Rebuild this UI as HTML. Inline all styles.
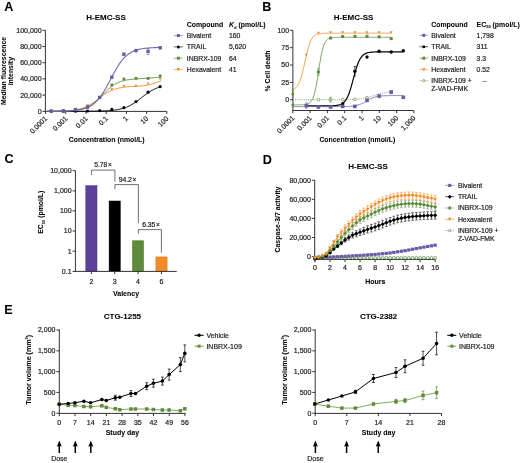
<!DOCTYPE html>
<html><head><meta charset="utf-8"><style>
html,body{margin:0;padding:0;background:#fff;width:520px;height:463px;overflow:hidden}
svg{display:block;filter:blur(0.3px)}
text{font-family:"Liberation Sans", sans-serif}
</style></head><body>
<svg width="520" height="463" viewBox="0 0 520 463">
<rect width="520" height="463" fill="#fff"/>
<text x="4.3" y="11.2" font-size="12.6" text-anchor="start" font-weight="bold" fill="#000" stroke="#000" stroke-width="0.05">A</text>
<text x="262.3" y="11.2" font-size="12.6" text-anchor="start" font-weight="bold" fill="#000" stroke="#000" stroke-width="0.05">B</text>
<text x="4.6" y="163.4" font-size="12.6" text-anchor="start" font-weight="bold" fill="#000" stroke="#000" stroke-width="0.05">C</text>
<text x="262.8" y="163.9" font-size="12.6" text-anchor="start" font-weight="bold" fill="#000" stroke="#000" stroke-width="0.05">D</text>
<text x="4.3" y="313.6" font-size="12.6" text-anchor="start" font-weight="bold" fill="#000" stroke="#000" stroke-width="0.05">E</text>
<text x="106" y="19.6" font-size="8" text-anchor="middle" font-weight="bold" fill="#000" stroke="#000" stroke-width="0.05">H-EMC-SS</text>
<line x1="45.4" y1="30.4" x2="45.4" y2="111.8" stroke="#333" stroke-width="1"/>
<line x1="45.4" y1="111.4" x2="166.8" y2="111.4" stroke="#333" stroke-width="1"/>
<line x1="42.5" y1="111.3" x2="45.4" y2="111.3" stroke="#333" stroke-width="1"/>
<text x="41.6" y="113.75" font-size="7" text-anchor="end" fill="#222" stroke="#222" stroke-width="0.2">0</text>
<line x1="42.5" y1="95.1" x2="45.4" y2="95.1" stroke="#333" stroke-width="1"/>
<text x="41.6" y="97.55" font-size="7" text-anchor="end" fill="#222" stroke="#222" stroke-width="0.2">20,000</text>
<line x1="42.5" y1="78.9" x2="45.4" y2="78.9" stroke="#333" stroke-width="1"/>
<text x="41.6" y="81.35" font-size="7" text-anchor="end" fill="#222" stroke="#222" stroke-width="0.2">40,000</text>
<line x1="42.5" y1="62.7" x2="45.4" y2="62.7" stroke="#333" stroke-width="1"/>
<text x="41.6" y="65.15" font-size="7" text-anchor="end" fill="#222" stroke="#222" stroke-width="0.2">60,000</text>
<line x1="42.5" y1="46.5" x2="45.4" y2="46.5" stroke="#333" stroke-width="1"/>
<text x="41.6" y="48.95" font-size="7" text-anchor="end" fill="#222" stroke="#222" stroke-width="0.2">80,000</text>
<line x1="42.5" y1="30.3" x2="45.4" y2="30.3" stroke="#333" stroke-width="1"/>
<text x="41.6" y="32.75" font-size="7" text-anchor="end" fill="#222" stroke="#222" stroke-width="0.2">100,000</text>
<line x1="45.6" y1="111.4" x2="45.6" y2="114" stroke="#333" stroke-width="1"/>
<text x="0" y="0" font-size="7" text-anchor="end" fill="#222" stroke="#222" stroke-width="0.2" transform="translate(47.8,118.9) rotate(-45)">0.0001</text>
<line x1="65.8" y1="111.4" x2="65.8" y2="114" stroke="#333" stroke-width="1"/>
<text x="0" y="0" font-size="7" text-anchor="end" fill="#222" stroke="#222" stroke-width="0.2" transform="translate(68,118.9) rotate(-45)">0.001</text>
<line x1="86" y1="111.4" x2="86" y2="114" stroke="#333" stroke-width="1"/>
<text x="0" y="0" font-size="7" text-anchor="end" fill="#222" stroke="#222" stroke-width="0.2" transform="translate(88.2,118.9) rotate(-45)">0.01</text>
<line x1="106.2" y1="111.4" x2="106.2" y2="114" stroke="#333" stroke-width="1"/>
<text x="0" y="0" font-size="7" text-anchor="end" fill="#222" stroke="#222" stroke-width="0.2" transform="translate(108.4,118.9) rotate(-45)">0.1</text>
<line x1="126.4" y1="111.4" x2="126.4" y2="114" stroke="#333" stroke-width="1"/>
<text x="0" y="0" font-size="7" text-anchor="end" fill="#222" stroke="#222" stroke-width="0.2" transform="translate(128.6,118.9) rotate(-45)">1</text>
<line x1="146.6" y1="111.4" x2="146.6" y2="114" stroke="#333" stroke-width="1"/>
<text x="0" y="0" font-size="7" text-anchor="end" fill="#222" stroke="#222" stroke-width="0.2" transform="translate(148.8,118.9) rotate(-45)">10</text>
<line x1="166.8" y1="111.4" x2="166.8" y2="114" stroke="#333" stroke-width="1"/>
<text x="0" y="0" font-size="7" text-anchor="end" fill="#222" stroke="#222" stroke-width="0.2" transform="translate(169,118.9) rotate(-45)">100</text>
<text x="106.7" y="142.4" font-size="6.9" text-anchor="middle" font-weight="bold" fill="#000" stroke="#000" stroke-width="0.05">Concentration (nmol/L)</text>
<text x="0" y="0" font-size="6.9" text-anchor="middle" font-weight="bold" fill="#000" stroke="#000" stroke-width="0.05" transform="translate(5.6,70.9) rotate(-90)">Median fluorescence</text>
<text x="0" y="0" font-size="6.9" text-anchor="middle" font-weight="bold" fill="#000" stroke="#000" stroke-width="0.05" transform="translate(12.6,71.2) rotate(-90)">intensity</text>
<path d="M47.2 111.3 L47.92 111.3 L48.63 111.3 L49.35 111.3 L50.06 111.3 L50.78 111.3 L51.5 111.3 L52.21 111.3 L52.93 111.3 L53.64 111.3 L54.36 111.3 L55.08 111.3 L55.79 111.3 L56.51 111.3 L57.23 111.3 L57.94 111.3 L58.66 111.3 L59.37 111.3 L60.09 111.3 L60.81 111.3 L61.52 111.3 L62.24 111.3 L62.95 111.3 L63.67 111.3 L64.39 111.3 L65.1 111.3 L65.82 111.3 L66.53 111.29 L67.25 111.29 L67.97 111.29 L68.68 111.29 L69.4 111.29 L70.12 111.29 L70.83 111.29 L71.55 111.29 L72.26 111.29 L72.98 111.29 L73.7 111.29 L74.41 111.29 L75.13 111.29 L75.84 111.28 L76.56 111.28 L77.28 111.28 L77.99 111.28 L78.71 111.28 L79.43 111.28 L80.14 111.28 L80.86 111.27 L81.57 111.27 L82.29 111.27 L83.01 111.27 L83.72 111.26 L84.44 111.26 L85.15 111.26 L85.87 111.25 L86.59 111.25 L87.3 111.24 L88.02 111.24 L88.73 111.23 L89.45 111.23 L90.17 111.22 L90.88 111.22 L91.6 111.21 L92.32 111.2 L93.03 111.19 L93.75 111.18 L94.46 111.17 L95.18 111.16 L95.9 111.15 L96.61 111.14 L97.33 111.12 L98.04 111.11 L98.76 111.09 L99.48 111.08 L100.19 111.06 L100.91 111.04 L101.62 111.01 L102.34 110.99 L103.06 110.96 L103.77 110.94 L104.49 110.91 L105.21 110.87 L105.92 110.84 L106.64 110.8 L107.35 110.76 L108.07 110.71 L108.79 110.66 L109.5 110.61 L110.22 110.55 L110.93 110.49 L111.65 110.42 L112.37 110.35 L113.08 110.28 L113.8 110.19 L114.52 110.1 L115.23 110 L115.95 109.9 L116.66 109.79 L117.38 109.67 L118.1 109.54 L118.81 109.4 L119.53 109.25 L120.24 109.09 L120.96 108.92 L121.68 108.73 L122.39 108.54 L123.11 108.33 L123.82 108.1 L124.54 107.86 L125.26 107.61 L125.97 107.34 L126.69 107.06 L127.41 106.76 L128.12 106.44 L128.84 106.11 L129.55 105.75 L130.27 105.39 L130.99 105 L131.7 104.59 L132.42 104.17 L133.13 103.73 L133.85 103.28 L134.57 102.81 L135.28 102.32 L136 101.83 L136.72 101.32 L137.43 100.79 L138.15 100.26 L138.86 99.72 L139.58 99.17 L140.3 98.62 L141.01 98.06 L141.73 97.51 L142.44 96.95 L143.16 96.4 L143.88 95.85 L144.59 95.3 L145.31 94.77 L146.02 94.24 L146.74 93.72 L147.46 93.22 L148.17 92.73 L148.89 92.25 L149.61 91.79 L150.32 91.34 L151.04 90.91 L151.75 90.5 L152.47 90.1 L153.19 89.72 L153.9 89.36 L154.62 89.02 L155.33 88.69 L156.05 88.39 L156.77 88.09 L157.48 87.82 L158.2 87.56 L158.91 87.31 L159.63 87.08 L160.35 86.87 L161.06 86.66" fill="none" stroke="#000" stroke-width="1"/>
<path d="M47.2 111.25 L47.92 111.24 L48.63 111.24 L49.35 111.23 L50.06 111.22 L50.78 111.22 L51.5 111.21 L52.21 111.2 L52.93 111.19 L53.64 111.18 L54.36 111.17 L55.08 111.16 L55.79 111.15 L56.51 111.14 L57.23 111.12 L57.94 111.11 L58.66 111.09 L59.37 111.07 L60.09 111.05 L60.81 111.03 L61.52 111.01 L62.24 110.98 L62.95 110.95 L63.67 110.92 L64.39 110.89 L65.1 110.85 L65.82 110.81 L66.53 110.77 L67.25 110.72 L67.97 110.67 L68.68 110.62 L69.4 110.56 L70.12 110.49 L70.83 110.42 L71.55 110.35 L72.26 110.27 L72.98 110.18 L73.7 110.08 L74.41 109.98 L75.13 109.87 L75.84 109.75 L76.56 109.62 L77.28 109.48 L77.99 109.33 L78.71 109.16 L79.43 108.99 L80.14 108.8 L80.86 108.61 L81.57 108.39 L82.29 108.16 L83.01 107.92 L83.72 107.66 L84.44 107.39 L85.15 107.1 L85.87 106.79 L86.59 106.46 L87.3 106.12 L88.02 105.75 L88.73 105.37 L89.45 104.98 L90.17 104.56 L90.88 104.13 L91.6 103.68 L92.32 103.22 L93.03 102.74 L93.75 102.25 L94.46 101.75 L95.18 101.24 L95.9 100.71 L96.61 100.18 L97.33 99.65 L98.04 99.11 L98.76 98.57 L99.48 98.03 L100.19 97.49 L100.91 96.96 L101.62 96.44 L102.34 95.92 L103.06 95.41 L103.77 94.91 L104.49 94.43 L105.21 93.96 L105.92 93.5 L106.64 93.06 L107.35 92.64 L108.07 92.23 L108.79 91.84 L109.5 91.47 L110.22 91.12 L110.93 90.78 L111.65 90.46 L112.37 90.16 L113.08 89.88 L113.8 89.61 L114.52 89.36 L115.23 89.12 L115.95 88.9 L116.66 88.69 L117.38 88.5 L118.1 88.32 L118.81 88.15 L119.53 87.99 L120.24 87.85 L120.96 87.71 L121.68 87.58 L122.39 87.47 L123.11 87.36 L123.82 87.26 L124.54 87.16 L125.26 87.07 L125.97 86.99 L126.69 86.91 L127.41 86.84 L128.12 86.78 L128.84 86.72 L129.55 86.66 L130.27 86.6 L130.99 86.55 L131.7 86.5 L132.42 86.45 L133.13 86.41 L133.85 86.36 L134.57 86.32 L135.28 86.27 L136 86.23 L136.72 86.19 L137.43 86.14 L138.15 86.1 L138.86 86.05 L139.58 86 L140.3 85.94 L141.01 85.89 L141.73 85.82 L142.44 85.76 L143.16 85.68 L143.88 85.6 L144.59 85.52 L145.31 85.42 L146.02 85.32 L146.74 85.21 L147.46 85.08 L148.17 84.95 L148.89 84.8 L149.61 84.64 L150.32 84.47 L151.04 84.29 L151.75 84.09 L152.47 83.88 L153.19 83.66 L153.9 83.43 L154.62 83.19 L155.33 82.94 L156.05 82.68 L156.77 82.42 L157.48 82.16 L158.2 81.9 L158.91 81.64 L159.63 81.38 L160.35 81.13 L161.06 80.89" fill="none" stroke="#f38a25" stroke-width="1"/>
<path d="M47.2 111.27 L47.92 111.27 L48.63 111.26 L49.35 111.26 L50.06 111.25 L50.78 111.25 L51.5 111.25 L52.21 111.24 L52.93 111.24 L53.64 111.23 L54.36 111.22 L55.08 111.22 L55.79 111.21 L56.51 111.2 L57.23 111.19 L57.94 111.18 L58.66 111.17 L59.37 111.15 L60.09 111.14 L60.81 111.13 L61.52 111.11 L62.24 111.09 L62.95 111.07 L63.67 111.05 L64.39 111.03 L65.1 111 L65.82 110.98 L66.53 110.95 L67.25 110.91 L67.97 110.88 L68.68 110.84 L69.4 110.79 L70.12 110.75 L70.83 110.7 L71.55 110.64 L72.26 110.58 L72.98 110.52 L73.7 110.44 L74.41 110.37 L75.13 110.28 L75.84 110.19 L76.56 110.09 L77.28 109.98 L77.99 109.86 L78.71 109.73 L79.43 109.59 L80.14 109.44 L80.86 109.27 L81.57 109.1 L82.29 108.9 L83.01 108.7 L83.72 108.47 L84.44 108.23 L85.15 107.97 L85.87 107.7 L86.59 107.4 L87.3 107.08 L88.02 106.74 L88.73 106.37 L89.45 105.98 L90.17 105.57 L90.88 105.14 L91.6 104.67 L92.32 104.19 L93.03 103.67 L93.75 103.13 L94.46 102.57 L95.18 101.98 L95.9 101.37 L96.61 100.74 L97.33 100.09 L98.04 99.42 L98.76 98.73 L99.48 98.03 L100.19 97.31 L100.91 96.59 L101.62 95.85 L102.34 95.12 L103.06 94.38 L103.77 93.65 L104.49 92.92 L105.21 92.2 L105.92 91.49 L106.64 90.79 L107.35 90.11 L108.07 89.44 L108.79 88.8 L109.5 88.17 L110.22 87.57 L110.93 86.99 L111.65 86.44 L112.37 85.91 L113.08 85.41 L113.8 84.93 L114.52 84.48 L115.23 84.05 L115.95 83.65 L116.66 83.27 L117.38 82.91 L118.1 82.58 L118.81 82.27 L119.53 81.98 L120.24 81.71 L120.96 81.45 L121.68 81.22 L122.39 81 L123.11 80.8 L123.82 80.61 L124.54 80.44 L125.26 80.27 L125.97 80.12 L126.69 79.99 L127.41 79.86 L128.12 79.74 L128.84 79.63 L129.55 79.53 L130.27 79.44 L130.99 79.35 L131.7 79.27 L132.42 79.19 L133.13 79.12 L133.85 79.06 L134.57 78.99 L135.28 78.94 L136 78.88 L136.72 78.83 L137.43 78.78 L138.15 78.73 L138.86 78.69 L139.58 78.64 L140.3 78.6 L141.01 78.56 L141.73 78.52 L142.44 78.48 L143.16 78.44 L143.88 78.39 L144.59 78.35 L145.31 78.31 L146.02 78.27 L146.74 78.22 L147.46 78.18 L148.17 78.13 L148.89 78.08 L149.61 78.03 L150.32 77.98 L151.04 77.93 L151.75 77.88 L152.47 77.82 L153.19 77.76 L153.9 77.7 L154.62 77.64 L155.33 77.58 L156.05 77.52 L156.77 77.46 L157.48 77.39 L158.2 77.33 L158.91 77.26 L159.63 77.2 L160.35 77.14 L161.06 77.08" fill="none" stroke="#5e8c3c" stroke-width="1"/>
<path d="M47.2 111.27 L47.92 111.26 L48.63 111.26 L49.35 111.26 L50.06 111.25 L50.78 111.25 L51.5 111.25 L52.21 111.24 L52.93 111.24 L53.64 111.23 L54.36 111.22 L55.08 111.22 L55.79 111.21 L56.51 111.2 L57.23 111.19 L57.94 111.18 L58.66 111.17 L59.37 111.16 L60.09 111.15 L60.81 111.14 L61.52 111.12 L62.24 111.1 L62.95 111.09 L63.67 111.07 L64.39 111.05 L65.1 111.02 L65.82 111 L66.53 110.97 L67.25 110.94 L67.97 110.91 L68.68 110.88 L69.4 110.84 L70.12 110.8 L70.83 110.76 L71.55 110.71 L72.26 110.66 L72.98 110.6 L73.7 110.54 L74.41 110.47 L75.13 110.4 L75.84 110.32 L76.56 110.23 L77.28 110.13 L77.99 110.03 L78.71 109.92 L79.43 109.8 L80.14 109.67 L80.86 109.53 L81.57 109.37 L82.29 109.21 L83.01 109.03 L83.72 108.83 L84.44 108.62 L85.15 108.39 L85.87 108.14 L86.59 107.88 L87.3 107.59 L88.02 107.28 L88.73 106.94 L89.45 106.58 L90.17 106.19 L90.88 105.77 L91.6 105.33 L92.32 104.84 L93.03 104.33 L93.75 103.78 L94.46 103.19 L95.18 102.57 L95.9 101.9 L96.61 101.19 L97.33 100.44 L98.04 99.64 L98.76 98.8 L99.48 97.92 L100.19 96.99 L100.91 96.01 L101.62 95 L102.34 93.93 L103.06 92.83 L103.77 91.68 L104.49 90.5 L105.21 89.27 L105.92 88.02 L106.64 86.74 L107.35 85.43 L108.07 84.1 L108.79 82.75 L109.5 81.39 L110.22 80.02 L110.93 78.65 L111.65 77.28 L112.37 75.92 L113.08 74.57 L113.8 73.23 L114.52 71.92 L115.23 70.64 L115.95 69.38 L116.66 68.16 L117.38 66.97 L118.1 65.83 L118.81 64.72 L119.53 63.65 L120.24 62.63 L120.96 61.65 L121.68 60.72 L122.39 59.84 L123.11 58.99 L123.82 58.2 L124.54 57.44 L125.26 56.73 L125.97 56.07 L126.69 55.44 L127.41 54.85 L128.12 54.29 L128.84 53.78 L129.55 53.3 L130.27 52.85 L130.99 52.43 L131.7 52.04 L132.42 51.67 L133.13 51.34 L133.85 51.03 L134.57 50.74 L135.28 50.47 L136 50.22 L136.72 49.99 L137.43 49.78 L138.15 49.58 L138.86 49.4 L139.58 49.23 L140.3 49.08 L141.01 48.94 L141.73 48.8 L142.44 48.68 L143.16 48.57 L143.88 48.47 L144.59 48.38 L145.31 48.29 L146.02 48.21 L146.74 48.13 L147.46 48.07 L148.17 48 L148.89 47.95 L149.61 47.89 L150.32 47.85 L151.04 47.8 L151.75 47.76 L152.47 47.72 L153.19 47.69 L153.9 47.66 L154.62 47.63 L155.33 47.6 L156.05 47.58 L156.77 47.55 L157.48 47.53 L158.2 47.51 L158.91 47.5 L159.63 47.48 L160.35 47.47 L161.06 47.45" fill="none" stroke="#7466b4" stroke-width="1.1"/>
<circle cx="51.3" cy="111.2" r="1.6" fill="#000"/>
<circle cx="63.4" cy="111.2" r="1.6" fill="#000"/>
<circle cx="75.5" cy="111.2" r="1.6" fill="#000"/>
<circle cx="87.6" cy="111" r="1.6" fill="#000"/>
<circle cx="99.7" cy="110.6" r="1.6" fill="#000"/>
<circle cx="111.8" cy="109.4" r="1.6" fill="#000"/>
<circle cx="123.9" cy="107.7" r="1.6" fill="#000"/>
<circle cx="136" cy="101.6" r="1.6" fill="#000"/>
<circle cx="148.1" cy="92.2" r="1.6" fill="#000"/>
<circle cx="160.2" cy="86.6" r="1.6" fill="#000"/>
<path d="M49.87 109.9 L52.73 109.9 L51.3 112.63 Z" fill="#f38a25"/>
<path d="M61.97 109.5 L64.83 109.5 L63.4 112.23 Z" fill="#f38a25"/>
<path d="M74.07 108.2 L76.93 108.2 L75.5 110.93 Z" fill="#f38a25"/>
<path d="M86.17 104.2 L89.03 104.2 L87.6 106.93 Z" fill="#f38a25"/>
<path d="M98.27 96.3 L101.13 96.3 L99.7 99.03 Z" fill="#f38a25"/>
<path d="M110.37 87.9 L113.23 87.9 L111.8 90.63 Z" fill="#f38a25"/>
<path d="M122.47 84.9 L125.33 84.9 L123.9 87.63 Z" fill="#f38a25"/>
<path d="M134.57 84.7 L137.43 84.7 L136 87.43 Z" fill="#f38a25"/>
<path d="M146.67 82.5 L149.53 82.5 L148.1 85.23 Z" fill="#f38a25"/>
<path d="M158.77 77.9 L161.63 77.9 L160.2 80.63 Z" fill="#f38a25"/>
<rect x="49.9" y="109.8" width="2.8" height="2.8" fill="#5e8c3c"/>
<rect x="62" y="109.4" width="2.8" height="2.8" fill="#5e8c3c"/>
<rect x="74.1" y="108.1" width="2.8" height="2.8" fill="#5e8c3c"/>
<rect x="86.2" y="105.1" width="2.8" height="2.8" fill="#5e8c3c"/>
<rect x="98.3" y="96.2" width="2.8" height="2.8" fill="#5e8c3c"/>
<rect x="110.4" y="83.6" width="2.8" height="2.8" fill="#5e8c3c"/>
<rect x="122.5" y="77.6" width="2.8" height="2.8" fill="#5e8c3c"/>
<rect x="134.6" y="77" width="2.8" height="2.8" fill="#5e8c3c"/>
<rect x="146.7" y="77" width="2.8" height="2.8" fill="#5e8c3c"/>
<rect x="158.8" y="74.5" width="2.8" height="2.8" fill="#5e8c3c"/>
<line x1="148.1" y1="48.5" x2="148.1" y2="54.5" stroke="#6a5aa8" stroke-width="0.6"/>
<line x1="146.9" y1="48.5" x2="149.3" y2="48.5" stroke="#6a5aa8" stroke-width="0.6"/>
<line x1="146.9" y1="54.5" x2="149.3" y2="54.5" stroke="#6a5aa8" stroke-width="0.6"/>
<rect x="49.6" y="109.5" width="3.4" height="3.4" fill="#6a5aa8"/>
<rect x="61.7" y="109.3" width="3.4" height="3.4" fill="#6a5aa8"/>
<rect x="73.8" y="107.9" width="3.4" height="3.4" fill="#6a5aa8"/>
<rect x="85.9" y="105.5" width="3.4" height="3.4" fill="#6a5aa8"/>
<rect x="98" y="95.7" width="3.4" height="3.4" fill="#6a5aa8"/>
<rect x="110.1" y="75.5" width="3.4" height="3.4" fill="#6a5aa8"/>
<rect x="122.2" y="52.5" width="3.4" height="3.4" fill="#6a5aa8"/>
<rect x="134.3" y="48.9" width="3.4" height="3.4" fill="#6a5aa8"/>
<rect x="146.4" y="49.7" width="3.4" height="3.4" fill="#6a5aa8"/>
<rect x="158.5" y="46.1" width="3.4" height="3.4" fill="#6a5aa8"/>
<text x="186.8" y="27" font-size="6.9" text-anchor="start" font-weight="bold" fill="#000" stroke="#000" stroke-width="0.05">Compound</text>
<text x="229" y="27" font-size="6.9" text-anchor="start" font-weight="bold" fill="#000" stroke="#000" stroke-width="0.05"><tspan font-style="italic">K</tspan><tspan font-size="4.2" dy="1.8">d</tspan><tspan dy="-1.8"> (pmol/L)</tspan></text>
<line x1="173.8" y1="35.6" x2="183" y2="35.6" stroke="#6a5aa8" stroke-width="1" stroke-opacity="0.6"/>
<rect x="176.9" y="34.1" width="3" height="3" fill="#6a5aa8"/>
<text x="186.8" y="38.05" font-size="6.85" text-anchor="start" fill="#222" stroke="#222" stroke-width="0.2">Bivalent</text>
<text x="229" y="38.05" font-size="6.85" text-anchor="start" fill="#222" stroke="#222" stroke-width="0.2">160</text>
<line x1="173.8" y1="46.9" x2="183" y2="46.9" stroke="#000" stroke-width="1" stroke-opacity="0.6"/>
<circle cx="178.4" cy="46.9" r="1.5" fill="#000"/>
<text x="186.8" y="49.35" font-size="6.85" text-anchor="start" fill="#222" stroke="#222" stroke-width="0.2">TRAIL</text>
<text x="229" y="49.35" font-size="6.85" text-anchor="start" fill="#222" stroke="#222" stroke-width="0.2">5,620</text>
<line x1="173.8" y1="58.2" x2="183" y2="58.2" stroke="#5e8c3c" stroke-width="1" stroke-opacity="0.6"/>
<rect x="176.9" y="56.7" width="3" height="3" fill="#5e8c3c"/>
<text x="186.8" y="60.65" font-size="6.85" text-anchor="start" fill="#222" stroke="#222" stroke-width="0.2">INBRX-109</text>
<text x="229" y="60.65" font-size="6.85" text-anchor="start" fill="#222" stroke="#222" stroke-width="0.2">64</text>
<line x1="173.8" y1="69.5" x2="183" y2="69.5" stroke="#f38a25" stroke-width="1" stroke-opacity="0.6"/>
<path d="M176.75 68 L180.05 68 L178.4 71.15 Z" fill="#f38a25"/>
<text x="186.8" y="71.95" font-size="6.85" text-anchor="start" fill="#222" stroke="#222" stroke-width="0.2">Hexavalent</text>
<text x="229" y="71.95" font-size="6.85" text-anchor="start" fill="#222" stroke="#222" stroke-width="0.2">41</text>
<text x="353.6" y="19.6" font-size="8" text-anchor="middle" font-weight="bold" fill="#000" stroke="#000" stroke-width="0.05">H-EMC-SS</text>
<line x1="292.9" y1="30.2" x2="292.9" y2="110.9" stroke="#333" stroke-width="1"/>
<line x1="292.9" y1="110.5" x2="413.8" y2="110.5" stroke="#333" stroke-width="1"/>
<line x1="290" y1="99.7" x2="292.9" y2="99.7" stroke="#333" stroke-width="1"/>
<text x="289.1" y="102.15" font-size="7" text-anchor="end" fill="#222" stroke="#222" stroke-width="0.2">0</text>
<line x1="290" y1="82.36" x2="292.9" y2="82.36" stroke="#333" stroke-width="1"/>
<text x="289.1" y="84.81" font-size="7" text-anchor="end" fill="#222" stroke="#222" stroke-width="0.2">25</text>
<line x1="290" y1="65.03" x2="292.9" y2="65.03" stroke="#333" stroke-width="1"/>
<text x="289.1" y="67.48" font-size="7" text-anchor="end" fill="#222" stroke="#222" stroke-width="0.2">50</text>
<line x1="290" y1="47.69" x2="292.9" y2="47.69" stroke="#333" stroke-width="1"/>
<text x="289.1" y="50.14" font-size="7" text-anchor="end" fill="#222" stroke="#222" stroke-width="0.2">75</text>
<line x1="290" y1="30.35" x2="292.9" y2="30.35" stroke="#333" stroke-width="1"/>
<text x="289.1" y="32.8" font-size="7" text-anchor="end" fill="#222" stroke="#222" stroke-width="0.2">100</text>
<line x1="292.8" y1="110.5" x2="292.8" y2="113.1" stroke="#333" stroke-width="1"/>
<text x="0" y="0" font-size="7" text-anchor="end" fill="#222" stroke="#222" stroke-width="0.2" transform="translate(295,118.6) rotate(-45)">0.0001</text>
<line x1="310.1" y1="110.5" x2="310.1" y2="113.1" stroke="#333" stroke-width="1"/>
<text x="0" y="0" font-size="7" text-anchor="end" fill="#222" stroke="#222" stroke-width="0.2" transform="translate(312.3,118.6) rotate(-45)">0.001</text>
<line x1="327.4" y1="110.5" x2="327.4" y2="113.1" stroke="#333" stroke-width="1"/>
<text x="0" y="0" font-size="7" text-anchor="end" fill="#222" stroke="#222" stroke-width="0.2" transform="translate(329.6,118.6) rotate(-45)">0.01</text>
<line x1="344.7" y1="110.5" x2="344.7" y2="113.1" stroke="#333" stroke-width="1"/>
<text x="0" y="0" font-size="7" text-anchor="end" fill="#222" stroke="#222" stroke-width="0.2" transform="translate(346.9,118.6) rotate(-45)">0.1</text>
<line x1="362" y1="110.5" x2="362" y2="113.1" stroke="#333" stroke-width="1"/>
<text x="0" y="0" font-size="7" text-anchor="end" fill="#222" stroke="#222" stroke-width="0.2" transform="translate(364.2,118.6) rotate(-45)">1</text>
<line x1="379.3" y1="110.5" x2="379.3" y2="113.1" stroke="#333" stroke-width="1"/>
<text x="0" y="0" font-size="7" text-anchor="end" fill="#222" stroke="#222" stroke-width="0.2" transform="translate(381.5,118.6) rotate(-45)">10</text>
<line x1="396.6" y1="110.5" x2="396.6" y2="113.1" stroke="#333" stroke-width="1"/>
<text x="0" y="0" font-size="7" text-anchor="end" fill="#222" stroke="#222" stroke-width="0.2" transform="translate(398.8,118.6) rotate(-45)">100</text>
<line x1="413.9" y1="110.5" x2="413.9" y2="113.1" stroke="#333" stroke-width="1"/>
<text x="0" y="0" font-size="7" text-anchor="end" fill="#222" stroke="#222" stroke-width="0.2" transform="translate(416.1,118.6) rotate(-45)">1,000</text>
<text x="357.3" y="142.4" font-size="6.9" text-anchor="middle" font-weight="bold" fill="#000" stroke="#000" stroke-width="0.05">Concentration (nmol/L)</text>
<text x="0" y="0" font-size="6.9" text-anchor="middle" font-weight="bold" fill="#000" stroke="#000" stroke-width="0.05" transform="translate(270.3,71) rotate(-90)">% Cell death</text>
<path d="M292.8 99.7 L293.79 99.7 L294.79 99.7 L295.78 99.7 L296.77 99.7 L297.76 99.7 L298.76 99.7 L299.75 99.7 L300.74 99.7 L301.74 99.7 L302.73 99.7 L303.72 99.7 L304.71 99.7 L305.71 99.7 L306.7 99.7 L307.69 99.7 L308.68 99.7 L309.68 99.7 L310.67 99.7 L311.66 99.7 L312.66 99.7 L313.65 99.7 L314.64 99.7 L315.63 99.7 L316.63 99.7 L317.62 99.7 L318.61 99.7 L319.61 99.7 L320.6 99.7 L321.59 99.7 L322.58 99.7 L323.58 99.7 L324.57 99.7 L325.56 99.7 L326.55 99.7 L327.55 99.7 L328.54 99.69 L329.53 99.69 L330.53 99.69 L331.52 99.69 L332.51 99.69 L333.5 99.69 L334.5 99.69 L335.49 99.68 L336.48 99.68 L337.48 99.68 L338.47 99.67 L339.46 99.67 L340.45 99.66 L341.45 99.65 L342.44 99.65 L343.43 99.64 L344.42 99.63 L345.42 99.62 L346.41 99.6 L347.4 99.58 L348.4 99.56 L349.39 99.54 L350.38 99.52 L351.37 99.48 L352.37 99.45 L353.36 99.41 L354.35 99.36 L355.35 99.3 L356.34 99.24 L357.33 99.16 L358.32 99.08 L359.32 98.98 L360.31 98.87 L361.3 98.74 L362.29 98.6 L363.29 98.44 L364.28 98.26 L365.27 98.07 L366.27 97.85 L367.26 97.61 L368.25 97.35 L369.24 97.07 L370.24 96.78 L371.23 96.47 L372.22 96.16 L373.22 95.83 L374.21 95.5 L375.2 95.17 L376.19 94.85 L377.19 94.53 L378.18 94.23 L379.17 93.94 L380.16 93.67 L381.16 93.41 L382.15 93.18 L383.14 92.96 L384.14 92.77 L385.13 92.6 L386.12 92.44 L387.11 92.3 L388.11 92.18 L389.1 92.07 L390.09 91.98 L391.09 91.9" fill="none" stroke="#5e8c3c" stroke-width="0.8" stroke-dasharray="1 1.2"/>
<path d="M292.8 89.5 L293.42 89.25 L294.04 88.94 L294.66 88.57 L295.28 88.13 L295.9 87.6 L296.52 86.97 L297.14 86.22 L297.76 85.33 L298.38 84.29 L299 83.08 L299.62 81.67 L300.24 80.06 L300.86 78.24 L301.48 76.2 L302.1 73.95 L302.72 71.5 L303.34 68.89 L303.96 66.15 L304.58 63.33 L305.2 60.48 L305.82 57.66 L306.44 54.92 L307.06 52.31 L307.68 49.87 L308.3 47.62 L308.92 45.58 L309.54 43.75 L310.16 42.14 L310.78 40.73 L311.4 39.52 L312.02 38.48 L312.64 37.59 L313.26 36.84 L313.88 36.21 L314.5 35.68 L315.12 35.24 L315.74 34.87 L316.36 34.56 L316.98 34.31 L317.6 34.1 L318.22 33.93 L318.84 33.78 L319.46 33.67 L320.08 33.57 L320.7 33.49 L321.32 33.42 L321.94 33.37 L322.56 33.33 L323.18 33.29 L323.8 33.26 L324.42 33.24 L325.04 33.22 L325.66 33.2 L326.28 33.19 L326.9 33.17 L327.52 33.17 L328.14 33.16 L328.76 33.15 L329.38 33.15 L330 33.14 L330.62 33.14 L331.24 33.14 L331.86 33.13 L332.48 33.13 L333.1 33.13 L333.73 33.13 L334.35 33.13 L334.97 33.13 L335.59 33.13 L336.21 33.13 L336.83 33.13 L337.45 33.13 L338.07 33.13 L338.69 33.13 L339.31 33.12 L339.93 33.12 L340.55 33.12 L341.17 33.12 L341.79 33.12 L342.41 33.12 L343.03 33.12 L343.65 33.12 L344.27 33.12 L344.89 33.12 L345.51 33.12 L346.13 33.12 L346.75 33.12 L347.37 33.12 L347.99 33.12 L348.61 33.12 L349.23 33.12 L349.85 33.12 L350.47 33.12 L351.09 33.12 L351.71 33.12 L352.33 33.12 L352.95 33.12 L353.57 33.12 L354.19 33.12 L354.81 33.12 L355.43 33.12 L356.05 33.12 L356.67 33.12 L357.29 33.12 L357.91 33.12 L358.53 33.12 L359.15 33.12 L359.77 33.12 L360.39 33.12 L361.01 33.12 L361.63 33.12 L362.25 33.12 L362.87 33.12 L363.49 33.12 L364.11 33.12 L364.73 33.12 L365.35 33.12 L365.97 33.12 L366.59 33.12 L367.21 33.12 L367.83 33.12 L368.45 33.12 L369.07 33.12 L369.69 33.12 L370.31 33.12 L370.93 33.12 L371.55 33.12 L372.17 33.12 L372.79 33.12 L373.41 33.12 L374.03 33.12 L374.65 33.12 L375.27 33.12 L375.89 33.12 L376.51 33.12 L377.13 33.12 L377.75 33.12 L378.37 33.12 L378.99 33.12 L379.61 33.12 L380.23 33.12 L380.85 33.12 L381.47 33.12 L382.09 33.12 L382.71 33.12 L383.33 33.12 L383.95 33.12 L384.57 33.12 L385.19 33.12 L385.81 33.12 L386.43 33.12 L387.05 33.12 L387.67 33.12 L388.29 33.12 L388.91 33.12 L389.53 33.12 L390.15 33.12 L390.77 33.12 L391.39 33.12" fill="none" stroke="#f38a25" stroke-width="0.8"/>
<path d="M292.8 104.9 L293.42 104.9 L294.04 104.9 L294.66 104.89 L295.28 104.89 L295.9 104.89 L296.52 104.89 L297.14 104.88 L297.76 104.88 L298.38 104.87 L299 104.87 L299.62 104.86 L300.24 104.84 L300.86 104.83 L301.48 104.81 L302.1 104.79 L302.72 104.75 L303.34 104.71 L303.96 104.66 L304.58 104.6 L305.2 104.52 L305.82 104.42 L306.44 104.29 L307.06 104.12 L307.68 103.92 L308.3 103.65 L308.92 103.33 L309.54 102.91 L310.16 102.39 L310.78 101.75 L311.4 100.95 L312.02 99.95 L312.64 98.74 L313.26 97.26 L313.88 95.48 L314.5 93.37 L315.12 90.9 L315.74 88.05 L316.36 84.85 L316.98 81.32 L317.6 77.52 L318.22 73.55 L318.84 69.51 L319.46 65.52 L320.08 61.67 L320.7 58.08 L321.32 54.8 L321.94 51.88 L322.56 49.32 L323.18 47.13 L323.8 45.29 L324.42 43.75 L325.04 42.48 L325.66 41.44 L326.28 40.6 L326.9 39.92 L327.52 39.38 L328.14 38.94 L328.76 38.6 L329.38 38.32 L330 38.1 L330.62 37.93 L331.24 37.79 L331.86 37.69 L332.48 37.6 L333.1 37.53 L333.73 37.48 L334.35 37.44 L334.97 37.41 L335.59 37.38 L336.21 37.36 L336.83 37.34 L337.45 37.33 L338.07 37.32 L338.69 37.31 L339.31 37.31 L339.93 37.3 L340.55 37.3 L341.17 37.3 L341.79 37.29 L342.41 37.29 L343.03 37.29 L343.65 37.29 L344.27 37.29 L344.89 37.29 L345.51 37.29 L346.13 37.29 L346.75 37.29 L347.37 37.29 L347.99 37.29 L348.61 37.29 L349.23 37.29 L349.85 37.29 L350.47 37.29 L351.09 37.29 L351.71 37.29 L352.33 37.29 L352.95 37.29 L353.57 37.29 L354.19 37.29 L354.81 37.29 L355.43 37.29 L356.05 37.29 L356.67 37.29 L357.29 37.29 L357.91 37.29 L358.53 37.29 L359.15 37.29 L359.77 37.29 L360.39 37.29 L361.01 37.29 L361.63 37.29 L362.25 37.29 L362.87 37.29 L363.49 37.29 L364.11 37.29 L364.73 37.29 L365.35 37.29 L365.97 37.29 L366.59 37.29 L367.21 37.29 L367.83 37.29 L368.45 37.29 L369.07 37.29 L369.69 37.29 L370.31 37.29 L370.93 37.29 L371.55 37.29 L372.17 37.29 L372.79 37.29 L373.41 37.29 L374.03 37.29 L374.65 37.29 L375.27 37.29 L375.89 37.29 L376.51 37.29 L377.13 37.29 L377.75 37.29 L378.37 37.29 L378.99 37.29 L379.61 37.29 L380.23 37.29 L380.85 37.29 L381.47 37.29 L382.09 37.29 L382.71 37.29 L383.33 37.29 L383.95 37.29 L384.57 37.29 L385.19 37.29 L385.81 37.29 L386.43 37.29 L387.05 37.29 L387.67 37.29 L388.29 37.29 L388.91 37.29 L389.53 37.29 L390.15 37.29 L390.77 37.29 L391.39 37.29" fill="none" stroke="#5e8c3c" stroke-width="0.8"/>
<path d="M306.26 105.94 L306.87 105.94 L307.48 105.94 L308.09 105.94 L308.7 105.94 L309.31 105.94 L309.92 105.94 L310.53 105.94 L311.14 105.94 L311.75 105.94 L312.36 105.94 L312.97 105.94 L313.58 105.94 L314.19 105.94 L314.8 105.94 L315.41 105.94 L316.01 105.94 L316.62 105.94 L317.23 105.94 L317.84 105.94 L318.45 105.94 L319.06 105.94 L319.67 105.94 L320.28 105.94 L320.89 105.94 L321.5 105.93 L322.11 105.93 L322.72 105.93 L323.33 105.93 L323.94 105.93 L324.55 105.92 L325.16 105.92 L325.77 105.92 L326.38 105.91 L326.99 105.91 L327.6 105.9 L328.21 105.89 L328.81 105.88 L329.42 105.87 L330.03 105.86 L330.64 105.85 L331.25 105.83 L331.86 105.81 L332.47 105.78 L333.08 105.75 L333.69 105.72 L334.3 105.68 L334.91 105.63 L335.52 105.57 L336.13 105.5 L336.74 105.42 L337.35 105.33 L337.96 105.21 L338.57 105.08 L339.18 104.92 L339.79 104.74 L340.4 104.52 L341.01 104.26 L341.61 103.96 L342.22 103.61 L342.83 103.2 L343.44 102.72 L344.05 102.17 L344.66 101.52 L345.27 100.78 L345.88 99.93 L346.49 98.96 L347.1 97.85 L347.71 96.61 L348.32 95.22 L348.93 93.68 L349.54 91.99 L350.15 90.16 L350.76 88.19 L351.37 86.1 L351.98 83.92 L352.59 81.66 L353.2 79.37 L353.81 77.07 L354.42 74.79 L355.02 72.57 L355.63 70.44 L356.24 68.42 L356.85 66.53 L357.46 64.78 L358.07 63.18 L358.68 61.73 L359.29 60.43 L359.9 59.27 L360.51 58.24 L361.12 57.34 L361.73 56.56 L362.34 55.87 L362.95 55.28 L363.56 54.77 L364.17 54.34 L364.78 53.96 L365.39 53.64 L366 53.37 L366.61 53.14 L367.22 52.94 L367.82 52.77 L368.43 52.63 L369.04 52.51 L369.65 52.41 L370.26 52.32 L370.87 52.25 L371.48 52.18 L372.09 52.13 L372.7 52.09 L373.31 52.05 L373.92 52.02 L374.53 51.99 L375.14 51.97 L375.75 51.95 L376.36 51.93 L376.97 51.92 L377.58 51.91 L378.19 51.9 L378.8 51.89 L379.41 51.89 L380.02 51.88 L380.62 51.87 L381.23 51.87 L381.84 51.87 L382.45 51.86 L383.06 51.86 L383.67 51.86 L384.28 51.86 L384.89 51.86 L385.5 51.86 L386.11 51.85 L386.72 51.85 L387.33 51.85 L387.94 51.85 L388.55 51.85 L389.16 51.85 L389.77 51.85 L390.38 51.85 L390.99 51.85 L391.6 51.85 L392.21 51.85 L392.82 51.85 L393.43 51.85 L394.03 51.85 L394.64 51.85 L395.25 51.85 L395.86 51.85 L396.47 51.85 L397.08 51.85 L397.69 51.85 L398.3 51.85 L398.91 51.85 L399.52 51.85 L400.13 51.85 L400.74 51.85 L401.35 51.85 L401.96 51.85 L402.57 51.85 L403.18 51.85" fill="none" stroke="#000" stroke-width="1.2"/>
<path d="M292.8 106.63 L293.49 106.63 L294.19 106.63 L294.88 106.63 L295.58 106.63 L296.27 106.63 L296.97 106.63 L297.66 106.63 L298.35 106.63 L299.05 106.63 L299.74 106.63 L300.44 106.63 L301.13 106.63 L301.82 106.63 L302.52 106.63 L303.21 106.63 L303.91 106.63 L304.6 106.63 L305.3 106.63 L305.99 106.63 L306.68 106.63 L307.38 106.63 L308.07 106.63 L308.77 106.63 L309.46 106.63 L310.15 106.63 L310.85 106.63 L311.54 106.63 L312.24 106.63 L312.93 106.63 L313.63 106.63 L314.32 106.63 L315.01 106.63 L315.71 106.63 L316.4 106.63 L317.1 106.63 L317.79 106.63 L318.49 106.63 L319.18 106.63 L319.87 106.63 L320.57 106.63 L321.26 106.63 L321.96 106.63 L322.65 106.63 L323.34 106.63 L324.04 106.63 L324.73 106.63 L325.43 106.63 L326.12 106.63 L326.82 106.63 L327.51 106.63 L328.2 106.63 L328.9 106.63 L329.59 106.63 L330.29 106.63 L330.98 106.63 L331.68 106.63 L332.37 106.63 L333.06 106.63 L333.76 106.62 L334.45 106.62 L335.15 106.62 L335.84 106.62 L336.53 106.62 L337.23 106.61 L337.92 106.61 L338.62 106.61 L339.31 106.6 L340.01 106.6 L340.7 106.59 L341.39 106.58 L342.09 106.57 L342.78 106.56 L343.48 106.55 L344.17 106.54 L344.86 106.52 L345.56 106.51 L346.25 106.49 L346.95 106.46 L347.64 106.44 L348.34 106.4 L349.03 106.37 L349.72 106.33 L350.42 106.28 L351.11 106.22 L351.81 106.16 L352.5 106.09 L353.2 106.01 L353.89 105.91 L354.58 105.81 L355.28 105.69 L355.97 105.55 L356.67 105.4 L357.36 105.23 L358.05 105.03 L358.75 104.82 L359.44 104.59 L360.14 104.33 L360.83 104.05 L361.53 103.74 L362.22 103.41 L362.91 103.06 L363.61 102.7 L364.3 102.31 L365 101.92 L365.69 101.51 L366.39 101.11 L367.08 100.7 L367.77 100.29 L368.47 99.89 L369.16 99.51 L369.86 99.14 L370.55 98.79 L371.24 98.46 L371.94 98.16 L372.63 97.87 L373.33 97.61 L374.02 97.37 L374.72 97.16 L375.41 96.96 L376.1 96.79 L376.8 96.64 L377.49 96.5 L378.19 96.38 L378.88 96.27 L379.57 96.17 L380.27 96.09 L380.96 96.02 L381.66 95.95 L382.35 95.9 L383.05 95.85 L383.74 95.81 L384.43 95.77 L385.13 95.74 L385.82 95.71 L386.52 95.69 L387.21 95.67 L387.91 95.65 L388.6 95.64 L389.29 95.62 L389.99 95.61 L390.68 95.6 L391.38 95.59 L392.07 95.59 L392.76 95.58 L393.46 95.57 L394.15 95.57 L394.85 95.56 L395.54 95.56 L396.24 95.56 L396.93 95.56 L397.62 95.55 L398.32 95.55 L399.01 95.55 L399.71 95.55 L400.4 95.55 L401.1 95.55 L401.79 95.54 L402.48 95.54 L403.18 95.54" fill="none" stroke="#6a5aa8" stroke-width="0.8"/>
<path d="M304.81 53.65 L307.79 53.65 L306.3 56.48 Z" fill="#f38a25"/>
<path d="M316.91 31.65 L319.88 31.65 L318.4 34.48 Z" fill="#f38a25"/>
<path d="M329.12 31.25 L332.09 31.25 L330.6 34.09 Z" fill="#f38a25"/>
<path d="M341.21 31.25 L344.19 31.25 L342.7 34.09 Z" fill="#f38a25"/>
<path d="M353.41 31.25 L356.38 31.25 L354.9 34.09 Z" fill="#f38a25"/>
<path d="M365.51 31.25 L368.49 31.25 L367 34.09 Z" fill="#f38a25"/>
<path d="M377.62 31.25 L380.59 31.25 L379.1 34.09 Z" fill="#f38a25"/>
<path d="M389.71 31.25 L392.69 31.25 L391.2 34.09 Z" fill="#f38a25"/>
<rect x="316.9" y="70.5" width="3" height="3" fill="#5e8c3c"/>
<rect x="329.1" y="36.5" width="3" height="3" fill="#5e8c3c"/>
<rect x="341.2" y="35" width="3" height="3" fill="#5e8c3c"/>
<rect x="353.4" y="34.8" width="3" height="3" fill="#5e8c3c"/>
<rect x="365.5" y="34.8" width="3" height="3" fill="#5e8c3c"/>
<rect x="377.6" y="35.3" width="3" height="3" fill="#5e8c3c"/>
<rect x="389.7" y="37.1" width="3" height="3" fill="#5e8c3c"/>
<line x1="318.4" y1="68.5" x2="318.4" y2="75.5" stroke="#5e8c3c" stroke-width="0.6"/>
<line x1="317.2" y1="68.5" x2="319.6" y2="68.5" stroke="#5e8c3c" stroke-width="0.6"/>
<line x1="317.2" y1="75.5" x2="319.6" y2="75.5" stroke="#5e8c3c" stroke-width="0.6"/>
<rect x="291.5" y="92.7" width="2.6" height="2.6" fill="#5e8c3c"/>
<line x1="292.8" y1="90.5" x2="292.8" y2="97.5" stroke="#5e8c3c" stroke-width="0.6"/>
<line x1="291.6" y1="90.5" x2="294" y2="90.5" stroke="#5e8c3c" stroke-width="0.6"/>
<line x1="291.6" y1="97.5" x2="294" y2="97.5" stroke="#5e8c3c" stroke-width="0.6"/>
<rect x="291.5" y="103.7" width="2.6" height="2.6" fill="#5e8c3c"/>
<circle cx="342.7" cy="103.8" r="1.7" fill="#000"/>
<circle cx="354.9" cy="71.3" r="1.7" fill="#000"/>
<circle cx="367" cy="57" r="1.7" fill="#000"/>
<circle cx="379.1" cy="51.3" r="1.7" fill="#000"/>
<circle cx="391.2" cy="52" r="1.7" fill="#000"/>
<circle cx="403.3" cy="50.8" r="1.7" fill="#000"/>
<line x1="354.9" y1="66.5" x2="354.9" y2="76" stroke="#000" stroke-width="0.6"/>
<line x1="353.7" y1="66.5" x2="356.1" y2="66.5" stroke="#000" stroke-width="0.6"/>
<line x1="353.7" y1="76" x2="356.1" y2="76" stroke="#000" stroke-width="0.6"/>
<circle cx="318.4" cy="99.7" r="1.4" fill="#fff" stroke="#5e8c3c" stroke-width="0.7"/>
<circle cx="330.6" cy="99.7" r="1.4" fill="#fff" stroke="#5e8c3c" stroke-width="0.7"/>
<circle cx="342.7" cy="99.5" r="1.4" fill="#fff" stroke="#5e8c3c" stroke-width="0.7"/>
<circle cx="354.9" cy="99.3" r="1.4" fill="#fff" stroke="#5e8c3c" stroke-width="0.7"/>
<circle cx="367" cy="97.8" r="1.4" fill="#fff" stroke="#5e8c3c" stroke-width="0.7"/>
<circle cx="379.1" cy="96.5" r="1.4" fill="#fff" stroke="#5e8c3c" stroke-width="0.7"/>
<circle cx="391.2" cy="92.5" r="1.4" fill="#fff" stroke="#5e8c3c" stroke-width="0.7"/>
<line x1="330.6" y1="97.3" x2="330.6" y2="102.1" stroke="#5e8c3c" stroke-width="0.6"/>
<line x1="329.4" y1="97.3" x2="331.8" y2="97.3" stroke="#5e8c3c" stroke-width="0.6"/>
<line x1="329.4" y1="102.1" x2="331.8" y2="102.1" stroke="#5e8c3c" stroke-width="0.6"/>
<rect x="304.5" y="103.8" width="3.6" height="3.6" fill="#6a5aa8"/>
<rect x="316.6" y="105.2" width="3.6" height="3.6" fill="#6a5aa8"/>
<rect x="328.8" y="105.2" width="3.6" height="3.6" fill="#6a5aa8"/>
<rect x="340.9" y="104.6" width="3.6" height="3.6" fill="#6a5aa8"/>
<rect x="353.1" y="104.6" width="3.6" height="3.6" fill="#6a5aa8"/>
<rect x="365.2" y="98.6" width="3.6" height="3.6" fill="#6a5aa8"/>
<rect x="377.3" y="94.2" width="3.6" height="3.6" fill="#6a5aa8"/>
<rect x="389.4" y="90.2" width="3.6" height="3.6" fill="#6a5aa8"/>
<rect x="401.5" y="95.5" width="3.6" height="3.6" fill="#6a5aa8"/>
<line x1="306.3" y1="103" x2="306.3" y2="108.3" stroke="#6a5aa8" stroke-width="0.6"/>
<line x1="305.1" y1="103" x2="307.5" y2="103" stroke="#6a5aa8" stroke-width="0.6"/>
<line x1="305.1" y1="108.3" x2="307.5" y2="108.3" stroke="#6a5aa8" stroke-width="0.6"/>
<text x="431.3" y="26.6" font-size="6.9" text-anchor="start" font-weight="bold" fill="#000" stroke="#000" stroke-width="0.05">Compound</text>
<text x="476.6" y="26.6" font-size="6.9" text-anchor="start" font-weight="bold" fill="#000" stroke="#000" stroke-width="0.05">EC<tspan font-size="4.0" dy="1.6">50</tspan><tspan dy="-1.6"> (pmol/L)</tspan></text>
<line x1="419.4" y1="35.3" x2="428.2" y2="35.3" stroke="#6a5aa8" stroke-width="1" stroke-opacity="0.6"/>
<rect x="422.3" y="33.8" width="3" height="3" fill="#6a5aa8"/>
<text x="431.3" y="37.75" font-size="6.85" text-anchor="start" fill="#222" stroke="#222" stroke-width="0.2">Bivalent</text>
<text x="476.6" y="37.75" font-size="6.85" text-anchor="start" fill="#222" stroke="#222" stroke-width="0.2">1,798</text>
<line x1="419.4" y1="46.75" x2="428.2" y2="46.75" stroke="#000" stroke-width="1" stroke-opacity="0.6"/>
<circle cx="423.8" cy="46.75" r="1.5" fill="#000"/>
<text x="431.3" y="49.2" font-size="6.85" text-anchor="start" fill="#222" stroke="#222" stroke-width="0.2">TRAIL</text>
<text x="476.6" y="49.2" font-size="6.85" text-anchor="start" fill="#222" stroke="#222" stroke-width="0.2">311</text>
<line x1="419.4" y1="58.2" x2="428.2" y2="58.2" stroke="#5e8c3c" stroke-width="1" stroke-opacity="0.6"/>
<rect x="422.3" y="56.7" width="3" height="3" fill="#5e8c3c"/>
<text x="431.3" y="60.65" font-size="6.85" text-anchor="start" fill="#222" stroke="#222" stroke-width="0.2">INBRX-109</text>
<text x="476.6" y="60.65" font-size="6.85" text-anchor="start" fill="#222" stroke="#222" stroke-width="0.2">3.3</text>
<line x1="419.4" y1="69.65" x2="428.2" y2="69.65" stroke="#f38a25" stroke-width="1" stroke-opacity="0.6"/>
<path d="M422.15 68.15 L425.45 68.15 L423.8 71.3 Z" fill="#f38a25"/>
<text x="431.3" y="72.1" font-size="6.85" text-anchor="start" fill="#222" stroke="#222" stroke-width="0.2">Hexavalent</text>
<text x="476.6" y="72.1" font-size="6.85" text-anchor="start" fill="#222" stroke="#222" stroke-width="0.2">0.52</text>
<line x1="419.4" y1="80.7" x2="428.2" y2="80.7" stroke="#5e8c3c" stroke-width="0.7" stroke-dasharray="1 1"/>
<circle cx="423.8" cy="80.7" r="1.2" fill="#fff" stroke="#5e8c3c" stroke-width="0.7"/>
<text x="431.3" y="83.15" font-size="6.85" text-anchor="start" fill="#222" stroke="#222" stroke-width="0.2">INBRX-109 +</text>
<text x="431.3" y="91.3" font-size="6.85" text-anchor="start" fill="#222" stroke="#222" stroke-width="0.2">Z-VAD-FMK</text>
<text x="484.8" y="83.15" font-size="7" text-anchor="middle" fill="#222" stroke="#222" stroke-width="0.2">–</text>
<line x1="75.4" y1="170.7" x2="75.4" y2="271.8" stroke="#333" stroke-width="1"/>
<line x1="72.6" y1="170.7" x2="75.4" y2="170.7" stroke="#333" stroke-width="1"/>
<text x="71.6" y="173.15" font-size="7" text-anchor="end" fill="#222" stroke="#222" stroke-width="0.2">10,000</text>
<line x1="72.6" y1="190.9" x2="75.4" y2="190.9" stroke="#333" stroke-width="1"/>
<text x="71.6" y="193.35" font-size="7" text-anchor="end" fill="#222" stroke="#222" stroke-width="0.2">1,000</text>
<line x1="72.6" y1="210.9" x2="75.4" y2="210.9" stroke="#333" stroke-width="1"/>
<text x="71.6" y="213.35" font-size="7" text-anchor="end" fill="#222" stroke="#222" stroke-width="0.2">100</text>
<line x1="72.6" y1="231" x2="75.4" y2="231" stroke="#333" stroke-width="1"/>
<text x="71.6" y="233.45" font-size="7" text-anchor="end" fill="#222" stroke="#222" stroke-width="0.2">10</text>
<line x1="72.6" y1="251.2" x2="75.4" y2="251.2" stroke="#333" stroke-width="1"/>
<text x="71.6" y="253.65" font-size="7" text-anchor="end" fill="#222" stroke="#222" stroke-width="0.2">1</text>
<line x1="72.6" y1="271.4" x2="75.4" y2="271.4" stroke="#333" stroke-width="1"/>
<text x="71.6" y="273.85" font-size="7" text-anchor="end" fill="#222" stroke="#222" stroke-width="0.2">0.1</text>
<rect x="85.8" y="185.65" width="11.2" height="85.75" fill="#5b4199" stroke="#4a3386" stroke-width="0.5"/>
<rect x="109.1" y="201" width="11.2" height="70.4" fill="#000" stroke="#000" stroke-width="0.5"/>
<rect x="132.4" y="240.76" width="11.2" height="30.64" fill="#5e8c3c" stroke="#4a7a2e" stroke-width="0.5"/>
<rect x="155.9" y="256.92" width="11.2" height="14.48" fill="#f38a25" stroke="#d8761c" stroke-width="0.5"/>
<line x1="75.4" y1="271.4" x2="176.8" y2="271.4" stroke="#333" stroke-width="1"/>
<line x1="91.4" y1="271.4" x2="91.4" y2="274.1" stroke="#333" stroke-width="1"/>
<text x="91.4" y="283.8" font-size="7" text-anchor="middle" fill="#222" stroke="#222" stroke-width="0.2">2</text>
<line x1="114.7" y1="271.4" x2="114.7" y2="274.1" stroke="#333" stroke-width="1"/>
<text x="114.7" y="283.8" font-size="7" text-anchor="middle" fill="#222" stroke="#222" stroke-width="0.2">3</text>
<line x1="138" y1="271.4" x2="138" y2="274.1" stroke="#333" stroke-width="1"/>
<text x="138" y="283.8" font-size="7" text-anchor="middle" fill="#222" stroke="#222" stroke-width="0.2">4</text>
<line x1="161.5" y1="271.4" x2="161.5" y2="274.1" stroke="#333" stroke-width="1"/>
<text x="161.5" y="283.8" font-size="7" text-anchor="middle" fill="#222" stroke="#222" stroke-width="0.2">6</text>
<text x="126" y="295.6" font-size="7" text-anchor="middle" font-weight="bold" fill="#000" stroke="#000" stroke-width="0.05">Valency</text>
<text x="0" y="0" font-size="6.9" text-anchor="middle" font-weight="bold" fill="#000" stroke="#000" stroke-width="0.05" transform="translate(43.3,212.2) rotate(-90)">EC<tspan font-size="4.0" dy="1.6">50</tspan><tspan dy="-1.6"> (pmol/L)</tspan></text>
<path d="M91.6 175 L91.6 170.1 L114.9 170.1 L114.9 181.5" fill="none" stroke="#333" stroke-width="0.7"/>
<text x="103" y="167.4" font-size="6.8" text-anchor="middle" fill="#222" stroke="#222" stroke-width="0.2">5.78<tspan font-size="6.6" dx="0.6">&#215;</tspan></text>
<path d="M114.9 189.2 L114.9 184.6 L138.4 184.6 L138.4 223" fill="none" stroke="#333" stroke-width="0.7"/>
<text x="127.5" y="181.9" font-size="6.8" text-anchor="middle" fill="#222" stroke="#222" stroke-width="0.2">94.2<tspan font-size="6.6" dx="0.6">&#215;</tspan></text>
<path d="M138.4 233.6 L138.4 229.6 L161.4 229.6 L161.4 252.7" fill="none" stroke="#333" stroke-width="0.7"/>
<text x="151" y="226.9" font-size="6.8" text-anchor="middle" fill="#222" stroke="#222" stroke-width="0.2">6.35<tspan font-size="6.6" dx="0.6">&#215;</tspan></text>
<text x="368" y="169.2" font-size="8" text-anchor="middle" font-weight="bold" fill="#000" stroke="#000" stroke-width="0.05">H-EMC-SS</text>
<line x1="314.7" y1="180.2" x2="314.7" y2="259.9" stroke="#333" stroke-width="1"/>
<line x1="314.7" y1="259.5" x2="435.4" y2="259.5" stroke="#333" stroke-width="1"/>
<line x1="311.8" y1="256.6" x2="314.7" y2="256.6" stroke="#333" stroke-width="1"/>
<text x="310.9" y="259.05" font-size="7" text-anchor="end" fill="#222" stroke="#222" stroke-width="0.2">0</text>
<line x1="311.8" y1="237.5" x2="314.7" y2="237.5" stroke="#333" stroke-width="1"/>
<text x="310.9" y="239.95" font-size="7" text-anchor="end" fill="#222" stroke="#222" stroke-width="0.2">20,000</text>
<line x1="311.8" y1="218.4" x2="314.7" y2="218.4" stroke="#333" stroke-width="1"/>
<text x="310.9" y="220.85" font-size="7" text-anchor="end" fill="#222" stroke="#222" stroke-width="0.2">40,000</text>
<line x1="311.8" y1="199.3" x2="314.7" y2="199.3" stroke="#333" stroke-width="1"/>
<text x="310.9" y="201.75" font-size="7" text-anchor="end" fill="#222" stroke="#222" stroke-width="0.2">60,000</text>
<line x1="311.8" y1="180.2" x2="314.7" y2="180.2" stroke="#333" stroke-width="1"/>
<text x="310.9" y="182.65" font-size="7" text-anchor="end" fill="#222" stroke="#222" stroke-width="0.2">80,000</text>
<line x1="315" y1="259.5" x2="315" y2="262.2" stroke="#333" stroke-width="1"/>
<text x="315" y="270.2" font-size="7" text-anchor="middle" fill="#222" stroke="#222" stroke-width="0.2">0</text>
<line x1="330.02" y1="259.5" x2="330.02" y2="262.2" stroke="#333" stroke-width="1"/>
<text x="330.02" y="270.2" font-size="7" text-anchor="middle" fill="#222" stroke="#222" stroke-width="0.2">2</text>
<line x1="345.04" y1="259.5" x2="345.04" y2="262.2" stroke="#333" stroke-width="1"/>
<text x="345.04" y="270.2" font-size="7" text-anchor="middle" fill="#222" stroke="#222" stroke-width="0.2">4</text>
<line x1="360.06" y1="259.5" x2="360.06" y2="262.2" stroke="#333" stroke-width="1"/>
<text x="360.06" y="270.2" font-size="7" text-anchor="middle" fill="#222" stroke="#222" stroke-width="0.2">6</text>
<line x1="375.08" y1="259.5" x2="375.08" y2="262.2" stroke="#333" stroke-width="1"/>
<text x="375.08" y="270.2" font-size="7" text-anchor="middle" fill="#222" stroke="#222" stroke-width="0.2">8</text>
<line x1="390.1" y1="259.5" x2="390.1" y2="262.2" stroke="#333" stroke-width="1"/>
<text x="390.1" y="270.2" font-size="7" text-anchor="middle" fill="#222" stroke="#222" stroke-width="0.2">10</text>
<line x1="405.12" y1="259.5" x2="405.12" y2="262.2" stroke="#333" stroke-width="1"/>
<text x="405.12" y="270.2" font-size="7" text-anchor="middle" fill="#222" stroke="#222" stroke-width="0.2">12</text>
<line x1="420.14" y1="259.5" x2="420.14" y2="262.2" stroke="#333" stroke-width="1"/>
<text x="420.14" y="270.2" font-size="7" text-anchor="middle" fill="#222" stroke="#222" stroke-width="0.2">14</text>
<line x1="435.16" y1="259.5" x2="435.16" y2="262.2" stroke="#333" stroke-width="1"/>
<text x="435.16" y="270.2" font-size="7" text-anchor="middle" fill="#222" stroke="#222" stroke-width="0.2">16</text>
<text x="375.3" y="284.2" font-size="7" text-anchor="middle" font-weight="bold" fill="#000" stroke="#000" stroke-width="0.05">Hours</text>
<text x="0" y="0" font-size="6.9" text-anchor="middle" font-weight="bold" fill="#000" stroke="#000" stroke-width="0.05" transform="translate(280,219.5) rotate(-90)">Caspase-3/7 activity</text>
<path d="M315 257.84 L318.75 257.84 L322.51 257.84 L326.26 257.84 L330.02 257.84 L333.77 257.84 L337.53 257.84 L341.29 257.84 L345.04 257.84 L348.8 257.84 L352.55 257.84 L356.31 257.84 L360.06 257.84 L363.81 257.84 L367.57 257.84 L371.32 257.84 L375.08 257.84 L378.83 257.84 L382.59 257.84 L386.35 257.84 L390.1 257.84 L393.86 257.84 L397.61 257.84 L401.37 257.84 L405.12 257.84 L408.88 257.84 L412.63 257.84 L416.38 257.84 L420.14 257.84 L423.89 257.84 L427.65 257.84 L431.4 257.84 L435.16 257.84" fill="none" stroke="#5e8c3c" stroke-width="0.8"/>
<circle cx="315" cy="257.84" r="1.4" fill="#fff" stroke="#5e8c3c" stroke-width="0.7"/>
<circle cx="318.75" cy="257.84" r="1.4" fill="#fff" stroke="#5e8c3c" stroke-width="0.7"/>
<circle cx="322.51" cy="257.84" r="1.4" fill="#fff" stroke="#5e8c3c" stroke-width="0.7"/>
<circle cx="326.26" cy="257.84" r="1.4" fill="#fff" stroke="#5e8c3c" stroke-width="0.7"/>
<circle cx="330.02" cy="257.84" r="1.4" fill="#fff" stroke="#5e8c3c" stroke-width="0.7"/>
<circle cx="333.77" cy="257.84" r="1.4" fill="#fff" stroke="#5e8c3c" stroke-width="0.7"/>
<circle cx="337.53" cy="257.84" r="1.4" fill="#fff" stroke="#5e8c3c" stroke-width="0.7"/>
<circle cx="341.29" cy="257.84" r="1.4" fill="#fff" stroke="#5e8c3c" stroke-width="0.7"/>
<circle cx="345.04" cy="257.84" r="1.4" fill="#fff" stroke="#5e8c3c" stroke-width="0.7"/>
<circle cx="348.8" cy="257.84" r="1.4" fill="#fff" stroke="#5e8c3c" stroke-width="0.7"/>
<circle cx="352.55" cy="257.84" r="1.4" fill="#fff" stroke="#5e8c3c" stroke-width="0.7"/>
<circle cx="356.31" cy="257.84" r="1.4" fill="#fff" stroke="#5e8c3c" stroke-width="0.7"/>
<circle cx="360.06" cy="257.84" r="1.4" fill="#fff" stroke="#5e8c3c" stroke-width="0.7"/>
<circle cx="363.81" cy="257.84" r="1.4" fill="#fff" stroke="#5e8c3c" stroke-width="0.7"/>
<circle cx="367.57" cy="257.84" r="1.4" fill="#fff" stroke="#5e8c3c" stroke-width="0.7"/>
<circle cx="371.32" cy="257.84" r="1.4" fill="#fff" stroke="#5e8c3c" stroke-width="0.7"/>
<circle cx="375.08" cy="257.84" r="1.4" fill="#fff" stroke="#5e8c3c" stroke-width="0.7"/>
<circle cx="378.83" cy="257.84" r="1.4" fill="#fff" stroke="#5e8c3c" stroke-width="0.7"/>
<circle cx="382.59" cy="257.84" r="1.4" fill="#fff" stroke="#5e8c3c" stroke-width="0.7"/>
<circle cx="386.35" cy="257.84" r="1.4" fill="#fff" stroke="#5e8c3c" stroke-width="0.7"/>
<circle cx="390.1" cy="257.84" r="1.4" fill="#fff" stroke="#5e8c3c" stroke-width="0.7"/>
<circle cx="393.86" cy="257.84" r="1.4" fill="#fff" stroke="#5e8c3c" stroke-width="0.7"/>
<circle cx="397.61" cy="257.84" r="1.4" fill="#fff" stroke="#5e8c3c" stroke-width="0.7"/>
<circle cx="401.37" cy="257.84" r="1.4" fill="#fff" stroke="#5e8c3c" stroke-width="0.7"/>
<circle cx="405.12" cy="257.84" r="1.4" fill="#fff" stroke="#5e8c3c" stroke-width="0.7"/>
<circle cx="408.88" cy="257.84" r="1.4" fill="#fff" stroke="#5e8c3c" stroke-width="0.7"/>
<circle cx="412.63" cy="257.84" r="1.4" fill="#fff" stroke="#5e8c3c" stroke-width="0.7"/>
<circle cx="416.38" cy="257.84" r="1.4" fill="#fff" stroke="#5e8c3c" stroke-width="0.7"/>
<circle cx="420.14" cy="257.84" r="1.4" fill="#fff" stroke="#5e8c3c" stroke-width="0.7"/>
<circle cx="423.89" cy="257.84" r="1.4" fill="#fff" stroke="#5e8c3c" stroke-width="0.7"/>
<circle cx="427.65" cy="257.84" r="1.4" fill="#fff" stroke="#5e8c3c" stroke-width="0.7"/>
<circle cx="431.4" cy="257.84" r="1.4" fill="#fff" stroke="#5e8c3c" stroke-width="0.7"/>
<circle cx="435.16" cy="257.84" r="1.4" fill="#fff" stroke="#5e8c3c" stroke-width="0.7"/>
<path d="M315 257.56 L318.75 257.44 L322.51 257.32 L326.26 257.2 L330.02 257.08 L333.77 256.89 L337.53 256.7 L341.29 256.5 L345.04 256.31 L348.8 256.1 L352.55 255.88 L356.31 255.67 L360.06 255.45 L363.81 255.19 L367.57 254.93 L371.32 254.67 L375.08 254.4 L378.83 254.05 L382.59 253.69 L386.35 253.33 L390.1 252.97 L393.86 252.4 L397.61 251.83 L401.37 251.25 L405.12 250.68 L408.88 249.96 L412.63 249.25 L416.38 248.53 L420.14 247.81 L423.89 247.15 L427.65 246.48 L431.4 245.81 L435.16 245.14" fill="none" stroke="#6a5aa8" stroke-width="0.8"/>
<rect x="313.4" y="255.96" width="3.2" height="3.2" fill="#6a5aa8"/>
<rect x="317.15" y="255.84" width="3.2" height="3.2" fill="#6a5aa8"/>
<rect x="320.91" y="255.72" width="3.2" height="3.2" fill="#6a5aa8"/>
<rect x="324.66" y="255.6" width="3.2" height="3.2" fill="#6a5aa8"/>
<rect x="328.42" y="255.48" width="3.2" height="3.2" fill="#6a5aa8"/>
<rect x="332.17" y="255.29" width="3.2" height="3.2" fill="#6a5aa8"/>
<rect x="335.93" y="255.1" width="3.2" height="3.2" fill="#6a5aa8"/>
<rect x="339.69" y="254.9" width="3.2" height="3.2" fill="#6a5aa8"/>
<rect x="343.44" y="254.71" width="3.2" height="3.2" fill="#6a5aa8"/>
<rect x="347.19" y="254.5" width="3.2" height="3.2" fill="#6a5aa8"/>
<rect x="350.95" y="254.28" width="3.2" height="3.2" fill="#6a5aa8"/>
<rect x="354.7" y="254.07" width="3.2" height="3.2" fill="#6a5aa8"/>
<rect x="358.46" y="253.85" width="3.2" height="3.2" fill="#6a5aa8"/>
<rect x="362.21" y="253.59" width="3.2" height="3.2" fill="#6a5aa8"/>
<rect x="365.97" y="253.33" width="3.2" height="3.2" fill="#6a5aa8"/>
<rect x="369.72" y="253.07" width="3.2" height="3.2" fill="#6a5aa8"/>
<rect x="373.48" y="252.8" width="3.2" height="3.2" fill="#6a5aa8"/>
<rect x="377.23" y="252.45" width="3.2" height="3.2" fill="#6a5aa8"/>
<rect x="380.99" y="252.09" width="3.2" height="3.2" fill="#6a5aa8"/>
<rect x="384.75" y="251.73" width="3.2" height="3.2" fill="#6a5aa8"/>
<rect x="388.5" y="251.37" width="3.2" height="3.2" fill="#6a5aa8"/>
<rect x="392.25" y="250.8" width="3.2" height="3.2" fill="#6a5aa8"/>
<rect x="396.01" y="250.23" width="3.2" height="3.2" fill="#6a5aa8"/>
<rect x="399.76" y="249.65" width="3.2" height="3.2" fill="#6a5aa8"/>
<rect x="403.52" y="249.08" width="3.2" height="3.2" fill="#6a5aa8"/>
<rect x="407.27" y="248.36" width="3.2" height="3.2" fill="#6a5aa8"/>
<rect x="411.03" y="247.65" width="3.2" height="3.2" fill="#6a5aa8"/>
<rect x="414.78" y="246.93" width="3.2" height="3.2" fill="#6a5aa8"/>
<rect x="418.54" y="246.21" width="3.2" height="3.2" fill="#6a5aa8"/>
<rect x="422.29" y="245.55" width="3.2" height="3.2" fill="#6a5aa8"/>
<rect x="426.05" y="244.88" width="3.2" height="3.2" fill="#6a5aa8"/>
<rect x="429.8" y="244.21" width="3.2" height="3.2" fill="#6a5aa8"/>
<rect x="433.56" y="243.54" width="3.2" height="3.2" fill="#6a5aa8"/>
<path d="M315 258.99 L318.75 257.36 L322.51 256.89 L326.26 255.84 L330.02 252.78 L333.77 248.96 L337.53 246.1 L341.29 242.99 L345.04 239.89 L348.8 237.5 L352.55 235.11 L356.31 233.68 L360.06 232.25 L363.81 230.82 L367.57 229.38 L371.32 228.19 L375.08 227 L378.83 225.56 L382.59 224.13 L386.35 222.7 L390.1 221.27 L393.86 220.07 L397.61 218.88 L401.37 218.16 L405.12 217.45 L408.88 216.97 L412.63 216.49 L416.38 216.25 L420.14 216.01 L423.89 215.77 L427.65 215.54 L431.4 215.44 L435.16 215.34" fill="none" stroke="#000" stroke-width="0.8"/>
<line x1="330.02" y1="252.27" x2="330.02" y2="253.29" stroke="#000" stroke-width="0.55"/>
<line x1="328.72" y1="252.27" x2="331.32" y2="252.27" stroke="#000" stroke-width="0.55"/>
<line x1="328.72" y1="253.29" x2="331.32" y2="253.29" stroke="#000" stroke-width="0.55"/>
<line x1="333.77" y1="247.94" x2="333.77" y2="249.98" stroke="#000" stroke-width="0.55"/>
<line x1="332.47" y1="247.94" x2="335.07" y2="247.94" stroke="#000" stroke-width="0.55"/>
<line x1="332.47" y1="249.98" x2="335.07" y2="249.98" stroke="#000" stroke-width="0.55"/>
<line x1="337.53" y1="244.69" x2="337.53" y2="247.5" stroke="#000" stroke-width="0.55"/>
<line x1="336.23" y1="244.69" x2="338.83" y2="244.69" stroke="#000" stroke-width="0.55"/>
<line x1="336.23" y1="247.5" x2="338.83" y2="247.5" stroke="#000" stroke-width="0.55"/>
<line x1="341.29" y1="241.18" x2="341.29" y2="244.81" stroke="#000" stroke-width="0.55"/>
<line x1="339.99" y1="241.18" x2="342.59" y2="241.18" stroke="#000" stroke-width="0.55"/>
<line x1="339.99" y1="244.81" x2="342.59" y2="244.81" stroke="#000" stroke-width="0.55"/>
<line x1="345.04" y1="237.66" x2="345.04" y2="242.12" stroke="#000" stroke-width="0.55"/>
<line x1="343.74" y1="237.66" x2="346.34" y2="237.66" stroke="#000" stroke-width="0.55"/>
<line x1="343.74" y1="242.12" x2="346.34" y2="242.12" stroke="#000" stroke-width="0.55"/>
<line x1="348.8" y1="234.95" x2="348.8" y2="240.05" stroke="#000" stroke-width="0.55"/>
<line x1="347.5" y1="234.95" x2="350.1" y2="234.95" stroke="#000" stroke-width="0.55"/>
<line x1="347.5" y1="240.05" x2="350.1" y2="240.05" stroke="#000" stroke-width="0.55"/>
<line x1="352.55" y1="232.25" x2="352.55" y2="237.98" stroke="#000" stroke-width="0.55"/>
<line x1="351.25" y1="232.25" x2="353.85" y2="232.25" stroke="#000" stroke-width="0.55"/>
<line x1="351.25" y1="237.98" x2="353.85" y2="237.98" stroke="#000" stroke-width="0.55"/>
<line x1="356.31" y1="230.62" x2="356.31" y2="236.74" stroke="#000" stroke-width="0.55"/>
<line x1="355" y1="230.62" x2="357.61" y2="230.62" stroke="#000" stroke-width="0.55"/>
<line x1="355" y1="236.74" x2="357.61" y2="236.74" stroke="#000" stroke-width="0.55"/>
<line x1="360.06" y1="229" x2="360.06" y2="235.49" stroke="#000" stroke-width="0.55"/>
<line x1="358.76" y1="229" x2="361.36" y2="229" stroke="#000" stroke-width="0.55"/>
<line x1="358.76" y1="235.49" x2="361.36" y2="235.49" stroke="#000" stroke-width="0.55"/>
<line x1="363.81" y1="227.38" x2="363.81" y2="234.25" stroke="#000" stroke-width="0.55"/>
<line x1="362.51" y1="227.38" x2="365.12" y2="227.38" stroke="#000" stroke-width="0.55"/>
<line x1="362.51" y1="234.25" x2="365.12" y2="234.25" stroke="#000" stroke-width="0.55"/>
<line x1="367.57" y1="225.75" x2="367.57" y2="233.01" stroke="#000" stroke-width="0.55"/>
<line x1="366.27" y1="225.75" x2="368.87" y2="225.75" stroke="#000" stroke-width="0.55"/>
<line x1="366.27" y1="233.01" x2="368.87" y2="233.01" stroke="#000" stroke-width="0.55"/>
<line x1="371.32" y1="224.4" x2="371.32" y2="231.98" stroke="#000" stroke-width="0.55"/>
<line x1="370.02" y1="224.4" x2="372.62" y2="224.4" stroke="#000" stroke-width="0.55"/>
<line x1="370.02" y1="231.98" x2="372.62" y2="231.98" stroke="#000" stroke-width="0.55"/>
<line x1="375.08" y1="223.18" x2="375.08" y2="230.82" stroke="#000" stroke-width="0.55"/>
<line x1="373.78" y1="223.18" x2="376.38" y2="223.18" stroke="#000" stroke-width="0.55"/>
<line x1="373.78" y1="230.82" x2="376.38" y2="230.82" stroke="#000" stroke-width="0.55"/>
<line x1="378.83" y1="221.74" x2="378.83" y2="229.38" stroke="#000" stroke-width="0.55"/>
<line x1="377.53" y1="221.74" x2="380.13" y2="221.74" stroke="#000" stroke-width="0.55"/>
<line x1="377.53" y1="229.38" x2="380.13" y2="229.38" stroke="#000" stroke-width="0.55"/>
<line x1="382.59" y1="220.31" x2="382.59" y2="227.95" stroke="#000" stroke-width="0.55"/>
<line x1="381.29" y1="220.31" x2="383.89" y2="220.31" stroke="#000" stroke-width="0.55"/>
<line x1="381.29" y1="227.95" x2="383.89" y2="227.95" stroke="#000" stroke-width="0.55"/>
<line x1="386.35" y1="218.88" x2="386.35" y2="226.52" stroke="#000" stroke-width="0.55"/>
<line x1="385.05" y1="218.88" x2="387.65" y2="218.88" stroke="#000" stroke-width="0.55"/>
<line x1="385.05" y1="226.52" x2="387.65" y2="226.52" stroke="#000" stroke-width="0.55"/>
<line x1="390.1" y1="217.45" x2="390.1" y2="225.09" stroke="#000" stroke-width="0.55"/>
<line x1="388.8" y1="217.45" x2="391.4" y2="217.45" stroke="#000" stroke-width="0.55"/>
<line x1="388.8" y1="225.09" x2="391.4" y2="225.09" stroke="#000" stroke-width="0.55"/>
<line x1="393.86" y1="216.25" x2="393.86" y2="223.89" stroke="#000" stroke-width="0.55"/>
<line x1="392.56" y1="216.25" x2="395.16" y2="216.25" stroke="#000" stroke-width="0.55"/>
<line x1="392.56" y1="223.89" x2="395.16" y2="223.89" stroke="#000" stroke-width="0.55"/>
<line x1="397.61" y1="215.06" x2="397.61" y2="222.7" stroke="#000" stroke-width="0.55"/>
<line x1="396.31" y1="215.06" x2="398.91" y2="215.06" stroke="#000" stroke-width="0.55"/>
<line x1="396.31" y1="222.7" x2="398.91" y2="222.7" stroke="#000" stroke-width="0.55"/>
<line x1="401.37" y1="214.34" x2="401.37" y2="221.98" stroke="#000" stroke-width="0.55"/>
<line x1="400.06" y1="214.34" x2="402.67" y2="214.34" stroke="#000" stroke-width="0.55"/>
<line x1="400.06" y1="221.98" x2="402.67" y2="221.98" stroke="#000" stroke-width="0.55"/>
<line x1="405.12" y1="213.63" x2="405.12" y2="221.27" stroke="#000" stroke-width="0.55"/>
<line x1="403.82" y1="213.63" x2="406.42" y2="213.63" stroke="#000" stroke-width="0.55"/>
<line x1="403.82" y1="221.27" x2="406.42" y2="221.27" stroke="#000" stroke-width="0.55"/>
<line x1="408.88" y1="213.15" x2="408.88" y2="220.79" stroke="#000" stroke-width="0.55"/>
<line x1="407.57" y1="213.15" x2="410.18" y2="213.15" stroke="#000" stroke-width="0.55"/>
<line x1="407.57" y1="220.79" x2="410.18" y2="220.79" stroke="#000" stroke-width="0.55"/>
<line x1="412.63" y1="212.67" x2="412.63" y2="220.31" stroke="#000" stroke-width="0.55"/>
<line x1="411.33" y1="212.67" x2="413.93" y2="212.67" stroke="#000" stroke-width="0.55"/>
<line x1="411.33" y1="220.31" x2="413.93" y2="220.31" stroke="#000" stroke-width="0.55"/>
<line x1="416.38" y1="212.43" x2="416.38" y2="220.07" stroke="#000" stroke-width="0.55"/>
<line x1="415.08" y1="212.43" x2="417.69" y2="212.43" stroke="#000" stroke-width="0.55"/>
<line x1="415.08" y1="220.07" x2="417.69" y2="220.07" stroke="#000" stroke-width="0.55"/>
<line x1="420.14" y1="212.19" x2="420.14" y2="219.83" stroke="#000" stroke-width="0.55"/>
<line x1="418.84" y1="212.19" x2="421.44" y2="212.19" stroke="#000" stroke-width="0.55"/>
<line x1="418.84" y1="219.83" x2="421.44" y2="219.83" stroke="#000" stroke-width="0.55"/>
<line x1="423.89" y1="211.95" x2="423.89" y2="219.59" stroke="#000" stroke-width="0.55"/>
<line x1="422.59" y1="211.95" x2="425.19" y2="211.95" stroke="#000" stroke-width="0.55"/>
<line x1="422.59" y1="219.59" x2="425.19" y2="219.59" stroke="#000" stroke-width="0.55"/>
<line x1="427.65" y1="211.72" x2="427.65" y2="219.36" stroke="#000" stroke-width="0.55"/>
<line x1="426.35" y1="211.72" x2="428.95" y2="211.72" stroke="#000" stroke-width="0.55"/>
<line x1="426.35" y1="219.36" x2="428.95" y2="219.36" stroke="#000" stroke-width="0.55"/>
<line x1="431.4" y1="211.62" x2="431.4" y2="219.26" stroke="#000" stroke-width="0.55"/>
<line x1="430.1" y1="211.62" x2="432.7" y2="211.62" stroke="#000" stroke-width="0.55"/>
<line x1="430.1" y1="219.26" x2="432.7" y2="219.26" stroke="#000" stroke-width="0.55"/>
<line x1="435.16" y1="211.52" x2="435.16" y2="219.16" stroke="#000" stroke-width="0.55"/>
<line x1="433.86" y1="211.52" x2="436.46" y2="211.52" stroke="#000" stroke-width="0.55"/>
<line x1="433.86" y1="219.16" x2="436.46" y2="219.16" stroke="#000" stroke-width="0.55"/>
<path d="M315 256.91 L317.08 258.99 L315 261.07 L312.92 258.99 Z" fill="#000"/>
<path d="M318.75 255.28 L320.83 257.36 L318.75 259.44 L316.68 257.36 Z" fill="#000"/>
<path d="M322.51 254.81 L324.59 256.89 L322.51 258.97 L320.43 256.89 Z" fill="#000"/>
<path d="M326.26 253.76 L328.34 255.84 L326.26 257.92 L324.19 255.84 Z" fill="#000"/>
<path d="M330.02 250.7 L332.1 252.78 L330.02 254.86 L327.94 252.78 Z" fill="#000"/>
<path d="M333.77 246.88 L335.85 248.96 L333.77 251.04 L331.69 248.96 Z" fill="#000"/>
<path d="M337.53 244.02 L339.61 246.1 L337.53 248.18 L335.45 246.1 Z" fill="#000"/>
<path d="M341.29 240.91 L343.37 242.99 L341.29 245.07 L339.21 242.99 Z" fill="#000"/>
<path d="M345.04 237.81 L347.12 239.89 L345.04 241.97 L342.96 239.89 Z" fill="#000"/>
<path d="M348.8 235.42 L350.88 237.5 L348.8 239.58 L346.72 237.5 Z" fill="#000"/>
<path d="M352.55 233.03 L354.63 235.11 L352.55 237.19 L350.47 235.11 Z" fill="#000"/>
<path d="M356.31 231.6 L358.38 233.68 L356.31 235.76 L354.23 233.68 Z" fill="#000"/>
<path d="M360.06 230.17 L362.14 232.25 L360.06 234.33 L357.98 232.25 Z" fill="#000"/>
<path d="M363.81 228.74 L365.89 230.82 L363.81 232.9 L361.74 230.82 Z" fill="#000"/>
<path d="M367.57 227.3 L369.65 229.38 L367.57 231.46 L365.49 229.38 Z" fill="#000"/>
<path d="M371.32 226.11 L373.4 228.19 L371.32 230.27 L369.25 228.19 Z" fill="#000"/>
<path d="M375.08 224.91 L377.16 227 L375.08 229.08 L373 227 Z" fill="#000"/>
<path d="M378.83 223.48 L380.91 225.56 L378.83 227.64 L376.75 225.56 Z" fill="#000"/>
<path d="M382.59 222.05 L384.67 224.13 L382.59 226.21 L380.51 224.13 Z" fill="#000"/>
<path d="M386.35 220.62 L388.43 222.7 L386.35 224.78 L384.27 222.7 Z" fill="#000"/>
<path d="M390.1 219.19 L392.18 221.27 L390.1 223.35 L388.02 221.27 Z" fill="#000"/>
<path d="M393.86 217.99 L395.94 220.07 L393.86 222.15 L391.78 220.07 Z" fill="#000"/>
<path d="M397.61 216.8 L399.69 218.88 L397.61 220.96 L395.53 218.88 Z" fill="#000"/>
<path d="M401.37 216.08 L403.44 218.16 L401.37 220.24 L399.29 218.16 Z" fill="#000"/>
<path d="M405.12 215.37 L407.2 217.45 L405.12 219.53 L403.04 217.45 Z" fill="#000"/>
<path d="M408.88 214.89 L410.95 216.97 L408.88 219.05 L406.8 216.97 Z" fill="#000"/>
<path d="M412.63 214.41 L414.71 216.49 L412.63 218.57 L410.55 216.49 Z" fill="#000"/>
<path d="M416.38 214.17 L418.46 216.25 L416.38 218.33 L414.31 216.25 Z" fill="#000"/>
<path d="M420.14 213.93 L422.22 216.01 L420.14 218.09 L418.06 216.01 Z" fill="#000"/>
<path d="M423.89 213.69 L425.97 215.77 L423.89 217.85 L421.81 215.77 Z" fill="#000"/>
<path d="M427.65 213.46 L429.73 215.54 L427.65 217.62 L425.57 215.54 Z" fill="#000"/>
<path d="M431.4 213.36 L433.48 215.44 L431.4 217.52 L429.32 215.44 Z" fill="#000"/>
<path d="M435.16 213.26 L437.24 215.34 L435.16 217.42 L433.08 215.34 Z" fill="#000"/>
<path d="M315 257.56 L318.75 257.08 L322.51 256.22 L326.26 254.21 L330.02 250.39 L333.77 246.1 L337.53 241.8 L341.29 237.5 L345.04 233.2 L348.8 229.62 L352.55 226.04 L356.31 222.7 L360.06 219.83 L363.81 217.92 L367.57 216.01 L371.32 214.1 L375.08 212.19 L378.83 210.52 L382.59 208.85 L386.35 207.66 L390.1 206.46 L393.86 205.6 L397.61 204.74 L401.37 204.27 L405.12 203.79 L408.88 203.69 L412.63 203.6 L416.38 203.84 L420.14 204.08 L423.89 204.79 L427.65 205.51 L431.4 206.22 L435.16 206.94" fill="none" stroke="#5e8c3c" stroke-width="0.8"/>
<line x1="330.02" y1="249.65" x2="330.02" y2="251.14" stroke="#5e8c3c" stroke-width="0.55"/>
<line x1="328.72" y1="249.65" x2="331.32" y2="249.65" stroke="#5e8c3c" stroke-width="0.55"/>
<line x1="328.72" y1="251.14" x2="331.32" y2="251.14" stroke="#5e8c3c" stroke-width="0.55"/>
<line x1="333.77" y1="244.83" x2="333.77" y2="247.36" stroke="#5e8c3c" stroke-width="0.55"/>
<line x1="332.47" y1="244.83" x2="335.07" y2="244.83" stroke="#5e8c3c" stroke-width="0.55"/>
<line x1="332.47" y1="247.36" x2="335.07" y2="247.36" stroke="#5e8c3c" stroke-width="0.55"/>
<line x1="337.53" y1="240.02" x2="337.53" y2="243.57" stroke="#5e8c3c" stroke-width="0.55"/>
<line x1="336.23" y1="240.02" x2="338.83" y2="240.02" stroke="#5e8c3c" stroke-width="0.55"/>
<line x1="336.23" y1="243.57" x2="338.83" y2="243.57" stroke="#5e8c3c" stroke-width="0.55"/>
<line x1="341.29" y1="235.21" x2="341.29" y2="239.79" stroke="#5e8c3c" stroke-width="0.55"/>
<line x1="339.99" y1="235.21" x2="342.59" y2="235.21" stroke="#5e8c3c" stroke-width="0.55"/>
<line x1="339.99" y1="239.79" x2="342.59" y2="239.79" stroke="#5e8c3c" stroke-width="0.55"/>
<line x1="345.04" y1="230.39" x2="345.04" y2="236.01" stroke="#5e8c3c" stroke-width="0.55"/>
<line x1="343.74" y1="230.39" x2="346.34" y2="230.39" stroke="#5e8c3c" stroke-width="0.55"/>
<line x1="343.74" y1="236.01" x2="346.34" y2="236.01" stroke="#5e8c3c" stroke-width="0.55"/>
<line x1="348.8" y1="226.38" x2="348.8" y2="232.86" stroke="#5e8c3c" stroke-width="0.55"/>
<line x1="347.5" y1="226.38" x2="350.1" y2="226.38" stroke="#5e8c3c" stroke-width="0.55"/>
<line x1="347.5" y1="232.86" x2="350.1" y2="232.86" stroke="#5e8c3c" stroke-width="0.55"/>
<line x1="352.55" y1="222.6" x2="352.55" y2="229.48" stroke="#5e8c3c" stroke-width="0.55"/>
<line x1="351.25" y1="222.6" x2="353.85" y2="222.6" stroke="#5e8c3c" stroke-width="0.55"/>
<line x1="351.25" y1="229.48" x2="353.85" y2="229.48" stroke="#5e8c3c" stroke-width="0.55"/>
<line x1="356.31" y1="219.26" x2="356.31" y2="226.14" stroke="#5e8c3c" stroke-width="0.55"/>
<line x1="355" y1="219.26" x2="357.61" y2="219.26" stroke="#5e8c3c" stroke-width="0.55"/>
<line x1="355" y1="226.14" x2="357.61" y2="226.14" stroke="#5e8c3c" stroke-width="0.55"/>
<line x1="360.06" y1="216.39" x2="360.06" y2="223.27" stroke="#5e8c3c" stroke-width="0.55"/>
<line x1="358.76" y1="216.39" x2="361.36" y2="216.39" stroke="#5e8c3c" stroke-width="0.55"/>
<line x1="358.76" y1="223.27" x2="361.36" y2="223.27" stroke="#5e8c3c" stroke-width="0.55"/>
<line x1="363.81" y1="214.48" x2="363.81" y2="221.36" stroke="#5e8c3c" stroke-width="0.55"/>
<line x1="362.51" y1="214.48" x2="365.12" y2="214.48" stroke="#5e8c3c" stroke-width="0.55"/>
<line x1="362.51" y1="221.36" x2="365.12" y2="221.36" stroke="#5e8c3c" stroke-width="0.55"/>
<line x1="367.57" y1="212.57" x2="367.57" y2="219.45" stroke="#5e8c3c" stroke-width="0.55"/>
<line x1="366.27" y1="212.57" x2="368.87" y2="212.57" stroke="#5e8c3c" stroke-width="0.55"/>
<line x1="366.27" y1="219.45" x2="368.87" y2="219.45" stroke="#5e8c3c" stroke-width="0.55"/>
<line x1="371.32" y1="210.66" x2="371.32" y2="217.54" stroke="#5e8c3c" stroke-width="0.55"/>
<line x1="370.02" y1="210.66" x2="372.62" y2="210.66" stroke="#5e8c3c" stroke-width="0.55"/>
<line x1="370.02" y1="217.54" x2="372.62" y2="217.54" stroke="#5e8c3c" stroke-width="0.55"/>
<line x1="375.08" y1="208.75" x2="375.08" y2="215.63" stroke="#5e8c3c" stroke-width="0.55"/>
<line x1="373.78" y1="208.75" x2="376.38" y2="208.75" stroke="#5e8c3c" stroke-width="0.55"/>
<line x1="373.78" y1="215.63" x2="376.38" y2="215.63" stroke="#5e8c3c" stroke-width="0.55"/>
<line x1="378.83" y1="207.08" x2="378.83" y2="213.96" stroke="#5e8c3c" stroke-width="0.55"/>
<line x1="377.53" y1="207.08" x2="380.13" y2="207.08" stroke="#5e8c3c" stroke-width="0.55"/>
<line x1="377.53" y1="213.96" x2="380.13" y2="213.96" stroke="#5e8c3c" stroke-width="0.55"/>
<line x1="382.59" y1="205.41" x2="382.59" y2="212.29" stroke="#5e8c3c" stroke-width="0.55"/>
<line x1="381.29" y1="205.41" x2="383.89" y2="205.41" stroke="#5e8c3c" stroke-width="0.55"/>
<line x1="381.29" y1="212.29" x2="383.89" y2="212.29" stroke="#5e8c3c" stroke-width="0.55"/>
<line x1="386.35" y1="204.22" x2="386.35" y2="211.09" stroke="#5e8c3c" stroke-width="0.55"/>
<line x1="385.05" y1="204.22" x2="387.65" y2="204.22" stroke="#5e8c3c" stroke-width="0.55"/>
<line x1="385.05" y1="211.09" x2="387.65" y2="211.09" stroke="#5e8c3c" stroke-width="0.55"/>
<line x1="390.1" y1="203.02" x2="390.1" y2="209.9" stroke="#5e8c3c" stroke-width="0.55"/>
<line x1="388.8" y1="203.02" x2="391.4" y2="203.02" stroke="#5e8c3c" stroke-width="0.55"/>
<line x1="388.8" y1="209.9" x2="391.4" y2="209.9" stroke="#5e8c3c" stroke-width="0.55"/>
<line x1="393.86" y1="202.17" x2="393.86" y2="209.04" stroke="#5e8c3c" stroke-width="0.55"/>
<line x1="392.56" y1="202.17" x2="395.16" y2="202.17" stroke="#5e8c3c" stroke-width="0.55"/>
<line x1="392.56" y1="209.04" x2="395.16" y2="209.04" stroke="#5e8c3c" stroke-width="0.55"/>
<line x1="397.61" y1="201.31" x2="397.61" y2="208.18" stroke="#5e8c3c" stroke-width="0.55"/>
<line x1="396.31" y1="201.31" x2="398.91" y2="201.31" stroke="#5e8c3c" stroke-width="0.55"/>
<line x1="396.31" y1="208.18" x2="398.91" y2="208.18" stroke="#5e8c3c" stroke-width="0.55"/>
<line x1="401.37" y1="200.83" x2="401.37" y2="207.7" stroke="#5e8c3c" stroke-width="0.55"/>
<line x1="400.06" y1="200.83" x2="402.67" y2="200.83" stroke="#5e8c3c" stroke-width="0.55"/>
<line x1="400.06" y1="207.7" x2="402.67" y2="207.7" stroke="#5e8c3c" stroke-width="0.55"/>
<line x1="405.12" y1="200.35" x2="405.12" y2="207.23" stroke="#5e8c3c" stroke-width="0.55"/>
<line x1="403.82" y1="200.35" x2="406.42" y2="200.35" stroke="#5e8c3c" stroke-width="0.55"/>
<line x1="403.82" y1="207.23" x2="406.42" y2="207.23" stroke="#5e8c3c" stroke-width="0.55"/>
<line x1="408.88" y1="200.26" x2="408.88" y2="207.13" stroke="#5e8c3c" stroke-width="0.55"/>
<line x1="407.57" y1="200.26" x2="410.18" y2="200.26" stroke="#5e8c3c" stroke-width="0.55"/>
<line x1="407.57" y1="207.13" x2="410.18" y2="207.13" stroke="#5e8c3c" stroke-width="0.55"/>
<line x1="412.63" y1="200.16" x2="412.63" y2="207.04" stroke="#5e8c3c" stroke-width="0.55"/>
<line x1="411.33" y1="200.16" x2="413.93" y2="200.16" stroke="#5e8c3c" stroke-width="0.55"/>
<line x1="411.33" y1="207.04" x2="413.93" y2="207.04" stroke="#5e8c3c" stroke-width="0.55"/>
<line x1="416.38" y1="200.4" x2="416.38" y2="207.27" stroke="#5e8c3c" stroke-width="0.55"/>
<line x1="415.08" y1="200.4" x2="417.69" y2="200.4" stroke="#5e8c3c" stroke-width="0.55"/>
<line x1="415.08" y1="207.27" x2="417.69" y2="207.27" stroke="#5e8c3c" stroke-width="0.55"/>
<line x1="420.14" y1="200.64" x2="420.14" y2="207.51" stroke="#5e8c3c" stroke-width="0.55"/>
<line x1="418.84" y1="200.64" x2="421.44" y2="200.64" stroke="#5e8c3c" stroke-width="0.55"/>
<line x1="418.84" y1="207.51" x2="421.44" y2="207.51" stroke="#5e8c3c" stroke-width="0.55"/>
<line x1="423.89" y1="201.35" x2="423.89" y2="208.23" stroke="#5e8c3c" stroke-width="0.55"/>
<line x1="422.59" y1="201.35" x2="425.19" y2="201.35" stroke="#5e8c3c" stroke-width="0.55"/>
<line x1="422.59" y1="208.23" x2="425.19" y2="208.23" stroke="#5e8c3c" stroke-width="0.55"/>
<line x1="427.65" y1="202.07" x2="427.65" y2="208.95" stroke="#5e8c3c" stroke-width="0.55"/>
<line x1="426.35" y1="202.07" x2="428.95" y2="202.07" stroke="#5e8c3c" stroke-width="0.55"/>
<line x1="426.35" y1="208.95" x2="428.95" y2="208.95" stroke="#5e8c3c" stroke-width="0.55"/>
<line x1="431.4" y1="202.79" x2="431.4" y2="209.66" stroke="#5e8c3c" stroke-width="0.55"/>
<line x1="430.1" y1="202.79" x2="432.7" y2="202.79" stroke="#5e8c3c" stroke-width="0.55"/>
<line x1="430.1" y1="209.66" x2="432.7" y2="209.66" stroke="#5e8c3c" stroke-width="0.55"/>
<line x1="435.16" y1="203.5" x2="435.16" y2="210.38" stroke="#5e8c3c" stroke-width="0.55"/>
<line x1="433.86" y1="203.5" x2="436.46" y2="203.5" stroke="#5e8c3c" stroke-width="0.55"/>
<line x1="433.86" y1="210.38" x2="436.46" y2="210.38" stroke="#5e8c3c" stroke-width="0.55"/>
<path d="M315 255.47 L317.08 257.56 L315 259.63 L312.92 257.56 Z" fill="#5e8c3c"/>
<path d="M318.75 255 L320.83 257.08 L318.75 259.16 L316.68 257.08 Z" fill="#5e8c3c"/>
<path d="M322.51 254.14 L324.59 256.22 L322.51 258.3 L320.43 256.22 Z" fill="#5e8c3c"/>
<path d="M326.26 252.13 L328.34 254.21 L326.26 256.29 L324.19 254.21 Z" fill="#5e8c3c"/>
<path d="M330.02 248.31 L332.1 250.39 L330.02 252.47 L327.94 250.39 Z" fill="#5e8c3c"/>
<path d="M333.77 244.02 L335.85 246.1 L333.77 248.18 L331.69 246.1 Z" fill="#5e8c3c"/>
<path d="M337.53 239.72 L339.61 241.8 L337.53 243.88 L335.45 241.8 Z" fill="#5e8c3c"/>
<path d="M341.29 235.42 L343.37 237.5 L341.29 239.58 L339.21 237.5 Z" fill="#5e8c3c"/>
<path d="M345.04 231.12 L347.12 233.2 L345.04 235.28 L342.96 233.2 Z" fill="#5e8c3c"/>
<path d="M348.8 227.54 L350.88 229.62 L348.8 231.7 L346.72 229.62 Z" fill="#5e8c3c"/>
<path d="M352.55 223.96 L354.63 226.04 L352.55 228.12 L350.47 226.04 Z" fill="#5e8c3c"/>
<path d="M356.31 220.62 L358.38 222.7 L356.31 224.78 L354.23 222.7 Z" fill="#5e8c3c"/>
<path d="M360.06 217.75 L362.14 219.83 L360.06 221.91 L357.98 219.83 Z" fill="#5e8c3c"/>
<path d="M363.81 215.84 L365.89 217.92 L363.81 220 L361.74 217.92 Z" fill="#5e8c3c"/>
<path d="M367.57 213.93 L369.65 216.01 L367.57 218.09 L365.49 216.01 Z" fill="#5e8c3c"/>
<path d="M371.32 212.02 L373.4 214.1 L371.32 216.18 L369.25 214.1 Z" fill="#5e8c3c"/>
<path d="M375.08 210.11 L377.16 212.19 L375.08 214.27 L373 212.19 Z" fill="#5e8c3c"/>
<path d="M378.83 208.44 L380.91 210.52 L378.83 212.6 L376.75 210.52 Z" fill="#5e8c3c"/>
<path d="M382.59 206.77 L384.67 208.85 L382.59 210.93 L380.51 208.85 Z" fill="#5e8c3c"/>
<path d="M386.35 205.58 L388.43 207.66 L386.35 209.74 L384.27 207.66 Z" fill="#5e8c3c"/>
<path d="M390.1 204.38 L392.18 206.46 L390.1 208.54 L388.02 206.46 Z" fill="#5e8c3c"/>
<path d="M393.86 203.52 L395.94 205.6 L393.86 207.68 L391.78 205.6 Z" fill="#5e8c3c"/>
<path d="M397.61 202.66 L399.69 204.74 L397.61 206.82 L395.53 204.74 Z" fill="#5e8c3c"/>
<path d="M401.37 202.19 L403.44 204.27 L401.37 206.35 L399.29 204.27 Z" fill="#5e8c3c"/>
<path d="M405.12 201.71 L407.2 203.79 L405.12 205.87 L403.04 203.79 Z" fill="#5e8c3c"/>
<path d="M408.88 201.61 L410.95 203.69 L408.88 205.77 L406.8 203.69 Z" fill="#5e8c3c"/>
<path d="M412.63 201.52 L414.71 203.6 L412.63 205.68 L410.55 203.6 Z" fill="#5e8c3c"/>
<path d="M416.38 201.76 L418.46 203.84 L416.38 205.92 L414.31 203.84 Z" fill="#5e8c3c"/>
<path d="M420.14 202 L422.22 204.08 L420.14 206.16 L418.06 204.08 Z" fill="#5e8c3c"/>
<path d="M423.89 202.71 L425.97 204.79 L423.89 206.87 L421.81 204.79 Z" fill="#5e8c3c"/>
<path d="M427.65 203.43 L429.73 205.51 L427.65 207.59 L425.57 205.51 Z" fill="#5e8c3c"/>
<path d="M431.4 204.14 L433.48 206.22 L431.4 208.3 L429.32 206.22 Z" fill="#5e8c3c"/>
<path d="M435.16 204.86 L437.24 206.94 L435.16 209.02 L433.08 206.94 Z" fill="#5e8c3c"/>
<path d="M315 257.56 L318.75 257.08 L322.51 255.84 L326.26 253.26 L330.02 248.01 L333.77 242.28 L337.53 237.02 L341.29 232.73 L345.04 228.43 L348.8 224.61 L352.55 220.79 L356.31 217.45 L360.06 214.1 L363.81 211.72 L367.57 209.33 L371.32 206.94 L375.08 204.55 L378.83 202.64 L382.59 200.73 L386.35 199.3 L390.1 197.87 L393.86 197.15 L397.61 196.44 L401.37 196.05 L405.12 195.67 L408.88 195.67 L412.63 195.67 L416.38 196.05 L420.14 196.44 L423.89 197.15 L427.65 197.87 L431.4 198.58 L435.16 199.3" fill="none" stroke="#f38a25" stroke-width="0.8"/>
<line x1="326.26" y1="252.83" x2="326.26" y2="253.68" stroke="#f38a25" stroke-width="0.55"/>
<line x1="324.96" y1="252.83" x2="327.56" y2="252.83" stroke="#f38a25" stroke-width="0.55"/>
<line x1="324.96" y1="253.68" x2="327.56" y2="253.68" stroke="#f38a25" stroke-width="0.55"/>
<line x1="330.02" y1="246.92" x2="330.02" y2="249.09" stroke="#f38a25" stroke-width="0.55"/>
<line x1="328.72" y1="246.92" x2="331.32" y2="246.92" stroke="#f38a25" stroke-width="0.55"/>
<line x1="328.72" y1="249.09" x2="331.32" y2="249.09" stroke="#f38a25" stroke-width="0.55"/>
<line x1="333.77" y1="240.46" x2="333.77" y2="244.09" stroke="#f38a25" stroke-width="0.55"/>
<line x1="332.47" y1="240.46" x2="335.07" y2="240.46" stroke="#f38a25" stroke-width="0.55"/>
<line x1="332.47" y1="244.09" x2="335.07" y2="244.09" stroke="#f38a25" stroke-width="0.55"/>
<line x1="337.53" y1="234.54" x2="337.53" y2="239.5" stroke="#f38a25" stroke-width="0.55"/>
<line x1="336.23" y1="234.54" x2="338.83" y2="234.54" stroke="#f38a25" stroke-width="0.55"/>
<line x1="336.23" y1="239.5" x2="338.83" y2="239.5" stroke="#f38a25" stroke-width="0.55"/>
<line x1="341.29" y1="229.7" x2="341.29" y2="235.75" stroke="#f38a25" stroke-width="0.55"/>
<line x1="339.99" y1="229.7" x2="342.59" y2="229.7" stroke="#f38a25" stroke-width="0.55"/>
<line x1="339.99" y1="235.75" x2="342.59" y2="235.75" stroke="#f38a25" stroke-width="0.55"/>
<line x1="345.04" y1="224.86" x2="345.04" y2="232" stroke="#f38a25" stroke-width="0.55"/>
<line x1="343.74" y1="224.86" x2="346.34" y2="224.86" stroke="#f38a25" stroke-width="0.55"/>
<line x1="343.74" y1="232" x2="346.34" y2="232" stroke="#f38a25" stroke-width="0.55"/>
<line x1="348.8" y1="220.98" x2="348.8" y2="228.24" stroke="#f38a25" stroke-width="0.55"/>
<line x1="347.5" y1="220.98" x2="350.1" y2="220.98" stroke="#f38a25" stroke-width="0.55"/>
<line x1="347.5" y1="228.24" x2="350.1" y2="228.24" stroke="#f38a25" stroke-width="0.55"/>
<line x1="352.55" y1="217.16" x2="352.55" y2="224.42" stroke="#f38a25" stroke-width="0.55"/>
<line x1="351.25" y1="217.16" x2="353.85" y2="217.16" stroke="#f38a25" stroke-width="0.55"/>
<line x1="351.25" y1="224.42" x2="353.85" y2="224.42" stroke="#f38a25" stroke-width="0.55"/>
<line x1="356.31" y1="213.82" x2="356.31" y2="221.07" stroke="#f38a25" stroke-width="0.55"/>
<line x1="355" y1="213.82" x2="357.61" y2="213.82" stroke="#f38a25" stroke-width="0.55"/>
<line x1="355" y1="221.07" x2="357.61" y2="221.07" stroke="#f38a25" stroke-width="0.55"/>
<line x1="360.06" y1="210.47" x2="360.06" y2="217.73" stroke="#f38a25" stroke-width="0.55"/>
<line x1="358.76" y1="210.47" x2="361.36" y2="210.47" stroke="#f38a25" stroke-width="0.55"/>
<line x1="358.76" y1="217.73" x2="361.36" y2="217.73" stroke="#f38a25" stroke-width="0.55"/>
<line x1="363.81" y1="208.09" x2="363.81" y2="215.34" stroke="#f38a25" stroke-width="0.55"/>
<line x1="362.51" y1="208.09" x2="365.12" y2="208.09" stroke="#f38a25" stroke-width="0.55"/>
<line x1="362.51" y1="215.34" x2="365.12" y2="215.34" stroke="#f38a25" stroke-width="0.55"/>
<line x1="367.57" y1="205.7" x2="367.57" y2="212.96" stroke="#f38a25" stroke-width="0.55"/>
<line x1="366.27" y1="205.7" x2="368.87" y2="205.7" stroke="#f38a25" stroke-width="0.55"/>
<line x1="366.27" y1="212.96" x2="368.87" y2="212.96" stroke="#f38a25" stroke-width="0.55"/>
<line x1="371.32" y1="203.31" x2="371.32" y2="210.57" stroke="#f38a25" stroke-width="0.55"/>
<line x1="370.02" y1="203.31" x2="372.62" y2="203.31" stroke="#f38a25" stroke-width="0.55"/>
<line x1="370.02" y1="210.57" x2="372.62" y2="210.57" stroke="#f38a25" stroke-width="0.55"/>
<line x1="375.08" y1="200.92" x2="375.08" y2="208.18" stroke="#f38a25" stroke-width="0.55"/>
<line x1="373.78" y1="200.92" x2="376.38" y2="200.92" stroke="#f38a25" stroke-width="0.55"/>
<line x1="373.78" y1="208.18" x2="376.38" y2="208.18" stroke="#f38a25" stroke-width="0.55"/>
<line x1="378.83" y1="199.01" x2="378.83" y2="206.27" stroke="#f38a25" stroke-width="0.55"/>
<line x1="377.53" y1="199.01" x2="380.13" y2="199.01" stroke="#f38a25" stroke-width="0.55"/>
<line x1="377.53" y1="206.27" x2="380.13" y2="206.27" stroke="#f38a25" stroke-width="0.55"/>
<line x1="382.59" y1="197.1" x2="382.59" y2="204.36" stroke="#f38a25" stroke-width="0.55"/>
<line x1="381.29" y1="197.1" x2="383.89" y2="197.1" stroke="#f38a25" stroke-width="0.55"/>
<line x1="381.29" y1="204.36" x2="383.89" y2="204.36" stroke="#f38a25" stroke-width="0.55"/>
<line x1="386.35" y1="195.67" x2="386.35" y2="202.93" stroke="#f38a25" stroke-width="0.55"/>
<line x1="385.05" y1="195.67" x2="387.65" y2="195.67" stroke="#f38a25" stroke-width="0.55"/>
<line x1="385.05" y1="202.93" x2="387.65" y2="202.93" stroke="#f38a25" stroke-width="0.55"/>
<line x1="390.1" y1="194.24" x2="390.1" y2="201.5" stroke="#f38a25" stroke-width="0.55"/>
<line x1="388.8" y1="194.24" x2="391.4" y2="194.24" stroke="#f38a25" stroke-width="0.55"/>
<line x1="388.8" y1="201.5" x2="391.4" y2="201.5" stroke="#f38a25" stroke-width="0.55"/>
<line x1="393.86" y1="193.52" x2="393.86" y2="200.78" stroke="#f38a25" stroke-width="0.55"/>
<line x1="392.56" y1="193.52" x2="395.16" y2="193.52" stroke="#f38a25" stroke-width="0.55"/>
<line x1="392.56" y1="200.78" x2="395.16" y2="200.78" stroke="#f38a25" stroke-width="0.55"/>
<line x1="397.61" y1="192.81" x2="397.61" y2="200.06" stroke="#f38a25" stroke-width="0.55"/>
<line x1="396.31" y1="192.81" x2="398.91" y2="192.81" stroke="#f38a25" stroke-width="0.55"/>
<line x1="396.31" y1="200.06" x2="398.91" y2="200.06" stroke="#f38a25" stroke-width="0.55"/>
<line x1="401.37" y1="192.42" x2="401.37" y2="199.68" stroke="#f38a25" stroke-width="0.55"/>
<line x1="400.06" y1="192.42" x2="402.67" y2="192.42" stroke="#f38a25" stroke-width="0.55"/>
<line x1="400.06" y1="199.68" x2="402.67" y2="199.68" stroke="#f38a25" stroke-width="0.55"/>
<line x1="405.12" y1="192.04" x2="405.12" y2="199.3" stroke="#f38a25" stroke-width="0.55"/>
<line x1="403.82" y1="192.04" x2="406.42" y2="192.04" stroke="#f38a25" stroke-width="0.55"/>
<line x1="403.82" y1="199.3" x2="406.42" y2="199.3" stroke="#f38a25" stroke-width="0.55"/>
<line x1="408.88" y1="192.04" x2="408.88" y2="199.3" stroke="#f38a25" stroke-width="0.55"/>
<line x1="407.57" y1="192.04" x2="410.18" y2="192.04" stroke="#f38a25" stroke-width="0.55"/>
<line x1="407.57" y1="199.3" x2="410.18" y2="199.3" stroke="#f38a25" stroke-width="0.55"/>
<line x1="412.63" y1="192.04" x2="412.63" y2="199.3" stroke="#f38a25" stroke-width="0.55"/>
<line x1="411.33" y1="192.04" x2="413.93" y2="192.04" stroke="#f38a25" stroke-width="0.55"/>
<line x1="411.33" y1="199.3" x2="413.93" y2="199.3" stroke="#f38a25" stroke-width="0.55"/>
<line x1="416.38" y1="192.42" x2="416.38" y2="199.68" stroke="#f38a25" stroke-width="0.55"/>
<line x1="415.08" y1="192.42" x2="417.69" y2="192.42" stroke="#f38a25" stroke-width="0.55"/>
<line x1="415.08" y1="199.68" x2="417.69" y2="199.68" stroke="#f38a25" stroke-width="0.55"/>
<line x1="420.14" y1="192.81" x2="420.14" y2="200.06" stroke="#f38a25" stroke-width="0.55"/>
<line x1="418.84" y1="192.81" x2="421.44" y2="192.81" stroke="#f38a25" stroke-width="0.55"/>
<line x1="418.84" y1="200.06" x2="421.44" y2="200.06" stroke="#f38a25" stroke-width="0.55"/>
<line x1="423.89" y1="193.52" x2="423.89" y2="200.78" stroke="#f38a25" stroke-width="0.55"/>
<line x1="422.59" y1="193.52" x2="425.19" y2="193.52" stroke="#f38a25" stroke-width="0.55"/>
<line x1="422.59" y1="200.78" x2="425.19" y2="200.78" stroke="#f38a25" stroke-width="0.55"/>
<line x1="427.65" y1="194.24" x2="427.65" y2="201.5" stroke="#f38a25" stroke-width="0.55"/>
<line x1="426.35" y1="194.24" x2="428.95" y2="194.24" stroke="#f38a25" stroke-width="0.55"/>
<line x1="426.35" y1="201.5" x2="428.95" y2="201.5" stroke="#f38a25" stroke-width="0.55"/>
<line x1="431.4" y1="194.95" x2="431.4" y2="202.21" stroke="#f38a25" stroke-width="0.55"/>
<line x1="430.1" y1="194.95" x2="432.7" y2="194.95" stroke="#f38a25" stroke-width="0.55"/>
<line x1="430.1" y1="202.21" x2="432.7" y2="202.21" stroke="#f38a25" stroke-width="0.55"/>
<line x1="435.16" y1="195.67" x2="435.16" y2="202.93" stroke="#f38a25" stroke-width="0.55"/>
<line x1="433.86" y1="195.67" x2="436.46" y2="195.67" stroke="#f38a25" stroke-width="0.55"/>
<line x1="433.86" y1="202.93" x2="436.46" y2="202.93" stroke="#f38a25" stroke-width="0.55"/>
<path d="M313.24 255.96 L316.76 255.96 L315 259.31 Z" fill="#f38a25"/>
<path d="M317 255.48 L320.51 255.48 L318.75 258.84 Z" fill="#f38a25"/>
<path d="M320.75 254.24 L324.27 254.24 L322.51 257.6 Z" fill="#f38a25"/>
<path d="M324.5 251.66 L328.02 251.66 L326.26 255.02 Z" fill="#f38a25"/>
<path d="M328.26 246.41 L331.78 246.41 L330.02 249.77 Z" fill="#f38a25"/>
<path d="M332.01 240.68 L335.53 240.68 L333.77 244.04 Z" fill="#f38a25"/>
<path d="M335.77 235.42 L339.29 235.42 L337.53 238.78 Z" fill="#f38a25"/>
<path d="M339.53 231.13 L343.05 231.13 L341.29 234.49 Z" fill="#f38a25"/>
<path d="M343.28 226.83 L346.8 226.83 L345.04 230.19 Z" fill="#f38a25"/>
<path d="M347.04 223.01 L350.56 223.01 L348.8 226.37 Z" fill="#f38a25"/>
<path d="M350.79 219.19 L354.31 219.19 L352.55 222.55 Z" fill="#f38a25"/>
<path d="M354.55 215.85 L358.06 215.85 L356.31 219.21 Z" fill="#f38a25"/>
<path d="M358.3 212.5 L361.82 212.5 L360.06 215.86 Z" fill="#f38a25"/>
<path d="M362.06 210.12 L365.57 210.12 L363.81 213.48 Z" fill="#f38a25"/>
<path d="M365.81 207.73 L369.33 207.73 L367.57 211.09 Z" fill="#f38a25"/>
<path d="M369.56 205.34 L373.08 205.34 L371.32 208.7 Z" fill="#f38a25"/>
<path d="M373.32 202.95 L376.84 202.95 L375.08 206.31 Z" fill="#f38a25"/>
<path d="M377.07 201.04 L380.59 201.04 L378.83 204.4 Z" fill="#f38a25"/>
<path d="M380.83 199.13 L384.35 199.13 L382.59 202.49 Z" fill="#f38a25"/>
<path d="M384.59 197.7 L388.11 197.7 L386.35 201.06 Z" fill="#f38a25"/>
<path d="M388.34 196.27 L391.86 196.27 L390.1 199.63 Z" fill="#f38a25"/>
<path d="M392.1 195.55 L395.62 195.55 L393.86 198.91 Z" fill="#f38a25"/>
<path d="M395.85 194.84 L399.37 194.84 L397.61 198.19 Z" fill="#f38a25"/>
<path d="M399.61 194.45 L403.12 194.45 L401.37 197.81 Z" fill="#f38a25"/>
<path d="M403.36 194.07 L406.88 194.07 L405.12 197.43 Z" fill="#f38a25"/>
<path d="M407.12 194.07 L410.63 194.07 L408.88 197.43 Z" fill="#f38a25"/>
<path d="M410.87 194.07 L414.39 194.07 L412.63 197.43 Z" fill="#f38a25"/>
<path d="M414.62 194.45 L418.14 194.45 L416.38 197.81 Z" fill="#f38a25"/>
<path d="M418.38 194.84 L421.9 194.84 L420.14 198.19 Z" fill="#f38a25"/>
<path d="M422.13 195.55 L425.65 195.55 L423.89 198.91 Z" fill="#f38a25"/>
<path d="M425.89 196.27 L429.41 196.27 L427.65 199.63 Z" fill="#f38a25"/>
<path d="M429.64 196.98 L433.16 196.98 L431.4 200.34 Z" fill="#f38a25"/>
<path d="M433.4 197.7 L436.92 197.7 L435.16 201.06 Z" fill="#f38a25"/>
<line x1="445.1" y1="185.4" x2="454.3" y2="185.4" stroke="#6a5aa8" stroke-width="1" stroke-opacity="0.6"/>
<rect x="448.15" y="183.85" width="3.1" height="3.1" fill="#6a5aa8"/>
<text x="457.9" y="187.85" font-size="6.85" text-anchor="start" fill="#222" stroke="#222" stroke-width="0.2">Bivalent</text>
<line x1="445.1" y1="196.7" x2="454.3" y2="196.7" stroke="#000" stroke-width="1" stroke-opacity="0.6"/>
<path d="M449.7 194.69 L451.71 196.7 L449.7 198.72 L447.69 196.7 Z" fill="#000"/>
<text x="457.9" y="199.15" font-size="6.85" text-anchor="start" fill="#222" stroke="#222" stroke-width="0.2">TRAIL</text>
<line x1="445.1" y1="208" x2="454.3" y2="208" stroke="#5e8c3c" stroke-width="1" stroke-opacity="0.6"/>
<path d="M449.7 205.99 L451.71 208 L449.7 210.01 L447.69 208 Z" fill="#5e8c3c"/>
<text x="457.9" y="210.45" font-size="6.85" text-anchor="start" fill="#222" stroke="#222" stroke-width="0.2">INBRX-109</text>
<line x1="445.1" y1="219.3" x2="454.3" y2="219.3" stroke="#f38a25" stroke-width="1" stroke-opacity="0.6"/>
<path d="M448 217.75 L451.4 217.75 L449.7 221.01 Z" fill="#f38a25"/>
<text x="457.9" y="221.75" font-size="6.85" text-anchor="start" fill="#222" stroke="#222" stroke-width="0.2">Hexavalent</text>
<line x1="445.1" y1="230.6" x2="454.3" y2="230.6" stroke="#5e8c3c" stroke-width="0.7" stroke-dasharray="1 1"/>
<circle cx="449.7" cy="230.6" r="1.2" fill="#fff" stroke="#5e8c3c" stroke-width="0.7"/>
<text x="457.9" y="233.05" font-size="6.85" text-anchor="start" fill="#222" stroke="#222" stroke-width="0.2">INBRX-109 +</text>
<text x="457.9" y="240.8" font-size="6.85" text-anchor="start" fill="#222" stroke="#222" stroke-width="0.2">Z-VAD-FMK</text>
<text x="122.4" y="318.6" font-size="8" text-anchor="middle" font-weight="bold" fill="#000" stroke="#000" stroke-width="0.05">CTG-1255</text>
<line x1="59.3" y1="329.4" x2="59.3" y2="413.8" stroke="#333" stroke-width="1"/>
<line x1="59.3" y1="413.4" x2="185.6" y2="413.4" stroke="#333" stroke-width="1"/>
<line x1="56.4" y1="413.2" x2="59.3" y2="413.2" stroke="#333" stroke-width="1"/>
<text x="55.5" y="415.65" font-size="7" text-anchor="end" fill="#222" stroke="#222" stroke-width="0.2">0</text>
<line x1="56.4" y1="392.4" x2="59.3" y2="392.4" stroke="#333" stroke-width="1"/>
<text x="55.5" y="394.85" font-size="7" text-anchor="end" fill="#222" stroke="#222" stroke-width="0.2">500</text>
<line x1="56.4" y1="371.6" x2="59.3" y2="371.6" stroke="#333" stroke-width="1"/>
<text x="55.5" y="374.05" font-size="7" text-anchor="end" fill="#222" stroke="#222" stroke-width="0.2">1,000</text>
<line x1="56.4" y1="350.8" x2="59.3" y2="350.8" stroke="#333" stroke-width="1"/>
<text x="55.5" y="353.25" font-size="7" text-anchor="end" fill="#222" stroke="#222" stroke-width="0.2">1,500</text>
<line x1="56.4" y1="330" x2="59.3" y2="330" stroke="#333" stroke-width="1"/>
<text x="55.5" y="332.45" font-size="7" text-anchor="end" fill="#222" stroke="#222" stroke-width="0.2">2,000</text>
<line x1="59.3" y1="413.4" x2="59.3" y2="416.1" stroke="#333" stroke-width="1"/>
<text x="59.3" y="425.2" font-size="7" text-anchor="middle" fill="#222" stroke="#222" stroke-width="0.2">0</text>
<line x1="75" y1="413.4" x2="75" y2="416.1" stroke="#333" stroke-width="1"/>
<text x="75" y="425.2" font-size="7" text-anchor="middle" fill="#222" stroke="#222" stroke-width="0.2">7</text>
<line x1="90.7" y1="413.4" x2="90.7" y2="416.1" stroke="#333" stroke-width="1"/>
<text x="90.7" y="425.2" font-size="7" text-anchor="middle" fill="#222" stroke="#222" stroke-width="0.2">14</text>
<line x1="106.4" y1="413.4" x2="106.4" y2="416.1" stroke="#333" stroke-width="1"/>
<text x="106.4" y="425.2" font-size="7" text-anchor="middle" fill="#222" stroke="#222" stroke-width="0.2">21</text>
<line x1="122.1" y1="413.4" x2="122.1" y2="416.1" stroke="#333" stroke-width="1"/>
<text x="122.1" y="425.2" font-size="7" text-anchor="middle" fill="#222" stroke="#222" stroke-width="0.2">28</text>
<line x1="137.81" y1="413.4" x2="137.81" y2="416.1" stroke="#333" stroke-width="1"/>
<text x="137.81" y="425.2" font-size="7" text-anchor="middle" fill="#222" stroke="#222" stroke-width="0.2">35</text>
<line x1="153.51" y1="413.4" x2="153.51" y2="416.1" stroke="#333" stroke-width="1"/>
<text x="153.51" y="425.2" font-size="7" text-anchor="middle" fill="#222" stroke="#222" stroke-width="0.2">42</text>
<line x1="169.21" y1="413.4" x2="169.21" y2="416.1" stroke="#333" stroke-width="1"/>
<text x="169.21" y="425.2" font-size="7" text-anchor="middle" fill="#222" stroke="#222" stroke-width="0.2">49</text>
<line x1="184.91" y1="413.4" x2="184.91" y2="416.1" stroke="#333" stroke-width="1"/>
<text x="184.91" y="425.2" font-size="7" text-anchor="middle" fill="#222" stroke="#222" stroke-width="0.2">56</text>
<text x="0" y="0" font-size="7.1" text-anchor="middle" font-weight="bold" fill="#000" stroke="#000" stroke-width="0.05" transform="translate(30.5,369.8) rotate(-90)">Tumor volume (mm<tspan font-size="4" dy="-2.4">3</tspan><tspan dy="2.4">)</tspan></text>
<path d="M59.2 404.2 L68.17 405.3 L74.9 405.5 L83.87 406.5 L90.6 406.8 L101.82 405.8 L106.3 407.4 L115.28 408.8 L119.76 409.7 L130.98 409 L135.46 409 L146.68 409 L153.41 409.5 L162.38 410 L169.11 410 L180.32 410.8 L184.81 408.8" fill="none" stroke="#7fae5c" stroke-width="1"/>
<path d="M59.2 404.2 L68.17 403.5 L74.9 402.8 L83.87 401.2 L90.6 402.8 L101.82 399.5 L106.3 400.5 L115.28 397.7 L119.76 397.2 L130.98 393.5 L135.46 393.5 L146.68 386.2 L153.41 383.2 L162.38 381.1 L169.11 374.6 L180.32 364.6 L184.81 353.4" fill="none" stroke="#000" stroke-width="1"/>
<rect x="57.45" y="402.45" width="3.5" height="3.5" fill="#5e8c3c"/>
<rect x="66.42" y="403.55" width="3.5" height="3.5" fill="#5e8c3c"/>
<rect x="73.15" y="403.75" width="3.5" height="3.5" fill="#5e8c3c"/>
<rect x="82.12" y="404.75" width="3.5" height="3.5" fill="#5e8c3c"/>
<rect x="88.85" y="405.05" width="3.5" height="3.5" fill="#5e8c3c"/>
<rect x="100.07" y="404.05" width="3.5" height="3.5" fill="#5e8c3c"/>
<rect x="104.55" y="405.65" width="3.5" height="3.5" fill="#5e8c3c"/>
<rect x="113.53" y="407.05" width="3.5" height="3.5" fill="#5e8c3c"/>
<rect x="118.01" y="407.95" width="3.5" height="3.5" fill="#5e8c3c"/>
<rect x="129.23" y="407.25" width="3.5" height="3.5" fill="#5e8c3c"/>
<rect x="133.71" y="407.25" width="3.5" height="3.5" fill="#5e8c3c"/>
<rect x="144.93" y="407.25" width="3.5" height="3.5" fill="#5e8c3c"/>
<rect x="151.66" y="407.75" width="3.5" height="3.5" fill="#5e8c3c"/>
<rect x="160.63" y="408.25" width="3.5" height="3.5" fill="#5e8c3c"/>
<rect x="167.36" y="408.25" width="3.5" height="3.5" fill="#5e8c3c"/>
<rect x="178.57" y="409.05" width="3.5" height="3.5" fill="#5e8c3c"/>
<rect x="183.06" y="407.05" width="3.5" height="3.5" fill="#5e8c3c"/>
<line x1="115.28" y1="395.2" x2="115.28" y2="400.2" stroke="#000" stroke-width="0.7"/>
<line x1="113.88" y1="395.2" x2="116.68" y2="395.2" stroke="#000" stroke-width="0.7"/>
<line x1="113.88" y1="400.2" x2="116.68" y2="400.2" stroke="#000" stroke-width="0.7"/>
<line x1="130.98" y1="390.5" x2="130.98" y2="396.5" stroke="#000" stroke-width="0.7"/>
<line x1="129.58" y1="390.5" x2="132.38" y2="390.5" stroke="#000" stroke-width="0.7"/>
<line x1="129.58" y1="396.5" x2="132.38" y2="396.5" stroke="#000" stroke-width="0.7"/>
<line x1="146.68" y1="382.7" x2="146.68" y2="389.7" stroke="#000" stroke-width="0.7"/>
<line x1="145.28" y1="382.7" x2="148.08" y2="382.7" stroke="#000" stroke-width="0.7"/>
<line x1="145.28" y1="389.7" x2="148.08" y2="389.7" stroke="#000" stroke-width="0.7"/>
<line x1="153.41" y1="379.2" x2="153.41" y2="387.2" stroke="#000" stroke-width="0.7"/>
<line x1="152.01" y1="379.2" x2="154.81" y2="379.2" stroke="#000" stroke-width="0.7"/>
<line x1="152.01" y1="387.2" x2="154.81" y2="387.2" stroke="#000" stroke-width="0.7"/>
<line x1="162.38" y1="377.1" x2="162.38" y2="385.1" stroke="#000" stroke-width="0.7"/>
<line x1="160.98" y1="377.1" x2="163.78" y2="377.1" stroke="#000" stroke-width="0.7"/>
<line x1="160.98" y1="385.1" x2="163.78" y2="385.1" stroke="#000" stroke-width="0.7"/>
<line x1="169.11" y1="369.1" x2="169.11" y2="380.1" stroke="#000" stroke-width="0.7"/>
<line x1="167.71" y1="369.1" x2="170.51" y2="369.1" stroke="#000" stroke-width="0.7"/>
<line x1="167.71" y1="380.1" x2="170.51" y2="380.1" stroke="#000" stroke-width="0.7"/>
<line x1="180.32" y1="357.6" x2="180.32" y2="371.6" stroke="#000" stroke-width="0.7"/>
<line x1="178.92" y1="357.6" x2="181.72" y2="357.6" stroke="#000" stroke-width="0.7"/>
<line x1="178.92" y1="371.6" x2="181.72" y2="371.6" stroke="#000" stroke-width="0.7"/>
<line x1="184.81" y1="344.9" x2="184.81" y2="361.9" stroke="#000" stroke-width="0.7"/>
<line x1="183.41" y1="344.9" x2="186.21" y2="344.9" stroke="#000" stroke-width="0.7"/>
<line x1="183.41" y1="361.9" x2="186.21" y2="361.9" stroke="#000" stroke-width="0.7"/>
<circle cx="59.2" cy="404.2" r="1.8" fill="#000"/>
<circle cx="68.17" cy="403.5" r="1.8" fill="#000"/>
<circle cx="74.9" cy="402.8" r="1.8" fill="#000"/>
<circle cx="83.87" cy="401.2" r="1.8" fill="#000"/>
<circle cx="90.6" cy="402.8" r="1.8" fill="#000"/>
<circle cx="101.82" cy="399.5" r="1.8" fill="#000"/>
<circle cx="106.3" cy="400.5" r="1.8" fill="#000"/>
<circle cx="115.28" cy="397.7" r="1.8" fill="#000"/>
<circle cx="119.76" cy="397.2" r="1.8" fill="#000"/>
<circle cx="130.98" cy="393.5" r="1.8" fill="#000"/>
<circle cx="135.46" cy="393.5" r="1.8" fill="#000"/>
<circle cx="146.68" cy="386.2" r="1.8" fill="#000"/>
<circle cx="153.41" cy="383.2" r="1.8" fill="#000"/>
<circle cx="162.38" cy="381.1" r="1.8" fill="#000"/>
<circle cx="169.11" cy="374.6" r="1.8" fill="#000"/>
<circle cx="180.32" cy="364.6" r="1.8" fill="#000"/>
<circle cx="184.81" cy="353.4" r="1.8" fill="#000"/>
<line x1="194.6" y1="335.3" x2="203.6" y2="335.3" stroke="#000" stroke-width="1.1"/>
<circle cx="199.1" cy="335.3" r="1.7" fill="#000"/>
<text x="206.4" y="337.8" font-size="7" text-anchor="start" fill="#222" stroke="#222" stroke-width="0.2">Vehicle</text>
<line x1="194.6" y1="346.2" x2="203.6" y2="346.2" stroke="#7fae5c" stroke-width="1.1"/>
<rect x="197.6" y="344.7" width="3" height="3" fill="#5e8c3c"/>
<text x="206.4" y="348.7" font-size="7" text-anchor="start" fill="#222" stroke="#222" stroke-width="0.2">INBRX-109</text>
<path d="M59.3 440.6 L61.8 446.8 L60.05 446.0 L60.05 452.9 L58.55 452.9 L58.55 446.0 L56.8 446.8 Z" fill="#000"/>
<path d="M75.3 440.6 L77.8 446.8 L76.05 446.0 L76.05 452.9 L74.55 452.9 L74.55 446.0 L72.8 446.8 Z" fill="#000"/>
<path d="M90.8 440.6 L93.3 446.8 L91.55 446.0 L91.55 452.9 L90.05 452.9 L90.05 446.0 L88.3 446.8 Z" fill="#000"/>
<text x="59.3" y="460.8" font-size="7" text-anchor="middle" fill="#222" stroke="#222" stroke-width="0.2">Dose</text>
<text x="122.4" y="435.4" font-size="7" text-anchor="middle" font-weight="bold" fill="#000" stroke="#000" stroke-width="0.05">Study day</text>
<text x="378.6" y="318.6" font-size="8" text-anchor="middle" font-weight="bold" fill="#000" stroke="#000" stroke-width="0.05">CTG-2382</text>
<line x1="315.2" y1="329.4" x2="315.2" y2="413.8" stroke="#333" stroke-width="1"/>
<line x1="315.2" y1="413.4" x2="441.4" y2="413.4" stroke="#333" stroke-width="1"/>
<line x1="312.3" y1="413.2" x2="315.2" y2="413.2" stroke="#333" stroke-width="1"/>
<text x="311.4" y="415.65" font-size="7" text-anchor="end" fill="#222" stroke="#222" stroke-width="0.2">0</text>
<line x1="312.3" y1="392.4" x2="315.2" y2="392.4" stroke="#333" stroke-width="1"/>
<text x="311.4" y="394.85" font-size="7" text-anchor="end" fill="#222" stroke="#222" stroke-width="0.2">500</text>
<line x1="312.3" y1="371.6" x2="315.2" y2="371.6" stroke="#333" stroke-width="1"/>
<text x="311.4" y="374.05" font-size="7" text-anchor="end" fill="#222" stroke="#222" stroke-width="0.2">1,000</text>
<line x1="312.3" y1="350.8" x2="315.2" y2="350.8" stroke="#333" stroke-width="1"/>
<text x="311.4" y="353.25" font-size="7" text-anchor="end" fill="#222" stroke="#222" stroke-width="0.2">1,500</text>
<line x1="312.3" y1="330" x2="315.2" y2="330" stroke="#333" stroke-width="1"/>
<text x="311.4" y="332.45" font-size="7" text-anchor="end" fill="#222" stroke="#222" stroke-width="0.2">2,000</text>
<line x1="315.2" y1="413.4" x2="315.2" y2="416.1" stroke="#333" stroke-width="1"/>
<text x="315.2" y="425.2" font-size="7" text-anchor="middle" fill="#222" stroke="#222" stroke-width="0.2">0</text>
<line x1="346.77" y1="413.4" x2="346.77" y2="416.1" stroke="#333" stroke-width="1"/>
<text x="346.77" y="425.2" font-size="7" text-anchor="middle" fill="#222" stroke="#222" stroke-width="0.2">7</text>
<line x1="378.34" y1="413.4" x2="378.34" y2="416.1" stroke="#333" stroke-width="1"/>
<text x="378.34" y="425.2" font-size="7" text-anchor="middle" fill="#222" stroke="#222" stroke-width="0.2">14</text>
<line x1="409.91" y1="413.4" x2="409.91" y2="416.1" stroke="#333" stroke-width="1"/>
<text x="409.91" y="425.2" font-size="7" text-anchor="middle" fill="#222" stroke="#222" stroke-width="0.2">21</text>
<line x1="441.48" y1="413.4" x2="441.48" y2="416.1" stroke="#333" stroke-width="1"/>
<text x="441.48" y="425.2" font-size="7" text-anchor="middle" fill="#222" stroke="#222" stroke-width="0.2">28</text>
<text x="0" y="0" font-size="7.1" text-anchor="middle" font-weight="bold" fill="#000" stroke="#000" stroke-width="0.05" transform="translate(286.6,369.8) rotate(-90)">Tumor volume (mm<tspan font-size="4" dy="-2.4">3</tspan><tspan dy="2.4">)</tspan></text>
<path d="M314.8 404 L328.33 406.2 L341.86 408.1 L355.39 408.1 L373.43 404 L395.98 401.4 L405 400.5 L423.04 395.4 L436.57 392.7" fill="none" stroke="#7fae5c" stroke-width="1"/>
<path d="M314.8 404 L328.33 400 L341.86 396 L355.39 391.9 L373.43 378.5 L395.98 372.5 L405 366.3 L423.04 358.3 L436.57 343.5" fill="none" stroke="#000" stroke-width="1"/>
<line x1="373.43" y1="403" x2="373.43" y2="405" stroke="#5e8c3c" stroke-width="0.7"/>
<line x1="372.03" y1="403" x2="374.83" y2="403" stroke="#5e8c3c" stroke-width="0.7"/>
<line x1="372.03" y1="405" x2="374.83" y2="405" stroke="#5e8c3c" stroke-width="0.7"/>
<line x1="395.98" y1="399.4" x2="395.98" y2="403.4" stroke="#5e8c3c" stroke-width="0.7"/>
<line x1="394.58" y1="399.4" x2="397.38" y2="399.4" stroke="#5e8c3c" stroke-width="0.7"/>
<line x1="394.58" y1="403.4" x2="397.38" y2="403.4" stroke="#5e8c3c" stroke-width="0.7"/>
<line x1="405" y1="398.5" x2="405" y2="402.5" stroke="#5e8c3c" stroke-width="0.7"/>
<line x1="403.6" y1="398.5" x2="406.4" y2="398.5" stroke="#5e8c3c" stroke-width="0.7"/>
<line x1="403.6" y1="402.5" x2="406.4" y2="402.5" stroke="#5e8c3c" stroke-width="0.7"/>
<line x1="423.04" y1="391.1" x2="423.04" y2="399.7" stroke="#5e8c3c" stroke-width="0.7"/>
<line x1="421.64" y1="391.1" x2="424.44" y2="391.1" stroke="#5e8c3c" stroke-width="0.7"/>
<line x1="421.64" y1="399.7" x2="424.44" y2="399.7" stroke="#5e8c3c" stroke-width="0.7"/>
<line x1="436.57" y1="386.9" x2="436.57" y2="398.5" stroke="#5e8c3c" stroke-width="0.7"/>
<line x1="435.17" y1="386.9" x2="437.97" y2="386.9" stroke="#5e8c3c" stroke-width="0.7"/>
<line x1="435.17" y1="398.5" x2="437.97" y2="398.5" stroke="#5e8c3c" stroke-width="0.7"/>
<rect x="313.05" y="402.25" width="3.5" height="3.5" fill="#5e8c3c"/>
<rect x="326.58" y="404.45" width="3.5" height="3.5" fill="#5e8c3c"/>
<rect x="340.11" y="406.35" width="3.5" height="3.5" fill="#5e8c3c"/>
<rect x="353.64" y="406.35" width="3.5" height="3.5" fill="#5e8c3c"/>
<rect x="371.68" y="402.25" width="3.5" height="3.5" fill="#5e8c3c"/>
<rect x="394.23" y="399.65" width="3.5" height="3.5" fill="#5e8c3c"/>
<rect x="403.25" y="398.75" width="3.5" height="3.5" fill="#5e8c3c"/>
<rect x="421.29" y="393.65" width="3.5" height="3.5" fill="#5e8c3c"/>
<rect x="434.82" y="390.95" width="3.5" height="3.5" fill="#5e8c3c"/>
<line x1="355.39" y1="390.4" x2="355.39" y2="393.4" stroke="#000" stroke-width="0.7"/>
<line x1="353.99" y1="390.4" x2="356.79" y2="390.4" stroke="#000" stroke-width="0.7"/>
<line x1="353.99" y1="393.4" x2="356.79" y2="393.4" stroke="#000" stroke-width="0.7"/>
<line x1="373.43" y1="374.5" x2="373.43" y2="382.5" stroke="#000" stroke-width="0.7"/>
<line x1="372.03" y1="374.5" x2="374.83" y2="374.5" stroke="#000" stroke-width="0.7"/>
<line x1="372.03" y1="382.5" x2="374.83" y2="382.5" stroke="#000" stroke-width="0.7"/>
<line x1="395.98" y1="367.5" x2="395.98" y2="377.5" stroke="#000" stroke-width="0.7"/>
<line x1="394.58" y1="367.5" x2="397.38" y2="367.5" stroke="#000" stroke-width="0.7"/>
<line x1="394.58" y1="377.5" x2="397.38" y2="377.5" stroke="#000" stroke-width="0.7"/>
<line x1="405" y1="359.8" x2="405" y2="372.8" stroke="#000" stroke-width="0.7"/>
<line x1="403.6" y1="359.8" x2="406.4" y2="359.8" stroke="#000" stroke-width="0.7"/>
<line x1="403.6" y1="372.8" x2="406.4" y2="372.8" stroke="#000" stroke-width="0.7"/>
<line x1="423.04" y1="351.3" x2="423.04" y2="365.3" stroke="#000" stroke-width="0.7"/>
<line x1="421.64" y1="351.3" x2="424.44" y2="351.3" stroke="#000" stroke-width="0.7"/>
<line x1="421.64" y1="365.3" x2="424.44" y2="365.3" stroke="#000" stroke-width="0.7"/>
<line x1="436.57" y1="332.2" x2="436.57" y2="354.8" stroke="#000" stroke-width="0.7"/>
<line x1="435.17" y1="332.2" x2="437.97" y2="332.2" stroke="#000" stroke-width="0.7"/>
<line x1="435.17" y1="354.8" x2="437.97" y2="354.8" stroke="#000" stroke-width="0.7"/>
<circle cx="314.8" cy="404" r="1.8" fill="#000"/>
<circle cx="328.33" cy="400" r="1.8" fill="#000"/>
<circle cx="341.86" cy="396" r="1.8" fill="#000"/>
<circle cx="355.39" cy="391.9" r="1.8" fill="#000"/>
<circle cx="373.43" cy="378.5" r="1.8" fill="#000"/>
<circle cx="395.98" cy="372.5" r="1.8" fill="#000"/>
<circle cx="405" cy="366.3" r="1.8" fill="#000"/>
<circle cx="423.04" cy="358.3" r="1.8" fill="#000"/>
<circle cx="436.57" cy="343.5" r="1.8" fill="#000"/>
<line x1="447.3" y1="335.3" x2="456.3" y2="335.3" stroke="#000" stroke-width="1.1"/>
<circle cx="451.8" cy="335.3" r="1.7" fill="#000"/>
<text x="459.1" y="337.8" font-size="7" text-anchor="start" fill="#222" stroke="#222" stroke-width="0.2">Vehicle</text>
<line x1="447.3" y1="346.2" x2="456.3" y2="346.2" stroke="#7fae5c" stroke-width="1.1"/>
<rect x="450.3" y="344.7" width="3" height="3" fill="#5e8c3c"/>
<text x="459.1" y="348.7" font-size="7" text-anchor="start" fill="#222" stroke="#222" stroke-width="0.2">INBRX-109</text>
<path d="M315.4 440.6 L317.9 446.8 L316.15 446.0 L316.15 452.9 L314.65 452.9 L314.65 446.0 L312.9 446.8 Z" fill="#000"/>
<path d="M346.6 440.6 L349.1 446.8 L347.35 446.0 L347.35 452.9 L345.85 452.9 L345.85 446.0 L344.1 446.8 Z" fill="#000"/>
<path d="M378.2 440.6 L380.7 446.8 L378.95 446.0 L378.95 452.9 L377.45 452.9 L377.45 446.0 L375.7 446.8 Z" fill="#000"/>
<text x="315.4" y="460.8" font-size="7" text-anchor="middle" fill="#222" stroke="#222" stroke-width="0.2">Dose</text>
<text x="378.6" y="435.4" font-size="7" text-anchor="middle" font-weight="bold" fill="#000" stroke="#000" stroke-width="0.05">Study day</text>
</svg>
</body></html>
